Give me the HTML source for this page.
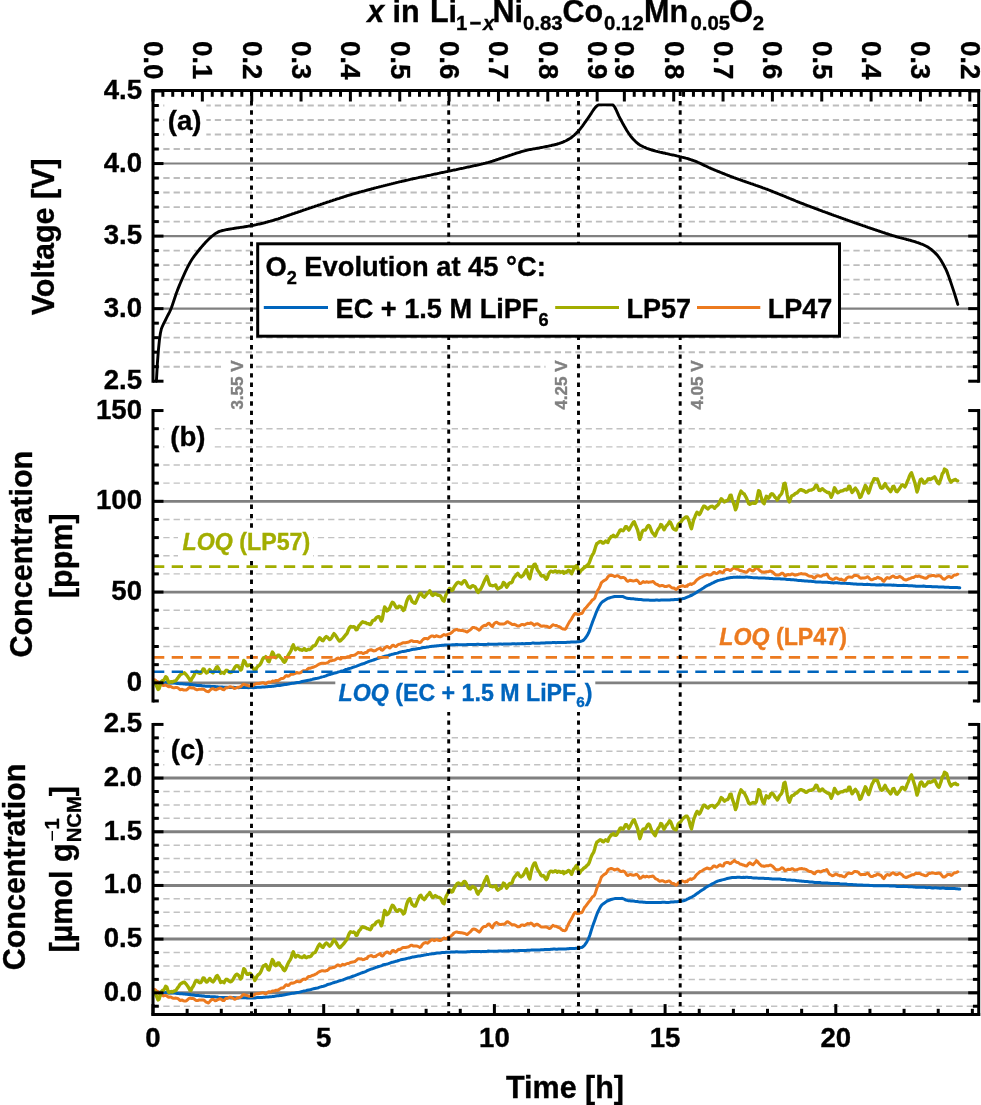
<!DOCTYPE html>
<html lang="en">
<head>
<meta charset="utf-8">
<title>O2 evolution of NCM831205 at 45 °C</title>
<style>
html,body{margin:0;padding:0;background:#fff;}
svg{display:block;}
text{font-family:"Liberation Sans", Arial, Helvetica, sans-serif;font-weight:bold;fill:currentColor;stroke:currentColor;stroke-width:0.35px;}
.gmaj{stroke:#808080;stroke-width:2.7;}
.Ga{stroke-width:2.1;}
.Gc{stroke-width:3;}
.gmin{stroke:#C2C2C2;stroke-width:1.5;stroke-dasharray:6.3 4;}
.ga{stroke-width:1.9;stroke:#BDBDBD;}
.gb{stroke-width:1.4;}
</style>
</head>
<body>
<svg color="#000" width="981" height="1105" viewBox="0 0 981 1105">
<rect x="0" y="0" width="981" height="1105" fill="#fff"/>
<g id="grid">
<line class="gmin ga" x1="153" y1="366.69" x2="978.7" y2="366.69"/>
<line class="gmin ga" x1="153" y1="352.18" x2="978.7" y2="352.18"/>
<line class="gmin ga" x1="153" y1="337.67" x2="978.7" y2="337.67"/>
<line class="gmin ga" x1="153" y1="323.16" x2="978.7" y2="323.16"/>
<line class="gmin ga" x1="153" y1="294.14" x2="978.7" y2="294.14"/>
<line class="gmin ga" x1="153" y1="279.63" x2="978.7" y2="279.63"/>
<line class="gmin ga" x1="153" y1="265.12" x2="978.7" y2="265.12"/>
<line class="gmin ga" x1="153" y1="250.61" x2="978.7" y2="250.61"/>
<line class="gmin ga" x1="153" y1="221.59" x2="978.7" y2="221.59"/>
<line class="gmin ga" x1="153" y1="207.08" x2="978.7" y2="207.08"/>
<line class="gmin ga" x1="153" y1="192.57" x2="978.7" y2="192.57"/>
<line class="gmin ga" x1="153" y1="178.06" x2="978.7" y2="178.06"/>
<line class="gmin ga" x1="153" y1="149.04" x2="978.7" y2="149.04"/>
<line class="gmin ga" x1="153" y1="134.53" x2="978.7" y2="134.53"/>
<line class="gmin ga" x1="153" y1="120.02" x2="978.7" y2="120.02"/>
<line class="gmin ga" x1="153" y1="105.51" x2="978.7" y2="105.51"/>
<line class="gmaj Ga" x1="153" y1="308.65" x2="978.7" y2="308.65"/>
<line class="gmaj Ga" x1="153" y1="236.1" x2="978.7" y2="236.1"/>
<line class="gmaj Ga" x1="153" y1="163.55" x2="978.7" y2="163.55"/>
<line class="gmin gb" x1="153" y1="664.65" x2="978.7" y2="664.65"/>
<line class="gmin gb" x1="153" y1="646.5" x2="978.7" y2="646.5"/>
<line class="gmin gb" x1="153" y1="628.35" x2="978.7" y2="628.35"/>
<line class="gmin gb" x1="153" y1="610.2" x2="978.7" y2="610.2"/>
<line class="gmin gb" x1="153" y1="573.9" x2="978.7" y2="573.9"/>
<line class="gmin gb" x1="153" y1="555.75" x2="978.7" y2="555.75"/>
<line class="gmin gb" x1="153" y1="537.6" x2="978.7" y2="537.6"/>
<line class="gmin gb" x1="153" y1="519.45" x2="978.7" y2="519.45"/>
<line class="gmin gb" x1="153" y1="483.15" x2="978.7" y2="483.15"/>
<line class="gmin gb" x1="153" y1="465" x2="978.7" y2="465"/>
<line class="gmin gb" x1="153" y1="446.85" x2="978.7" y2="446.85"/>
<line class="gmin gb" x1="153" y1="428.7" x2="978.7" y2="428.7"/>
<line class="gmaj Gb" x1="153" y1="682.8" x2="978.7" y2="682.8"/>
<line class="gmaj Gb" x1="153" y1="592.05" x2="978.7" y2="592.05"/>
<line class="gmaj Gb" x1="153" y1="501.3" x2="978.7" y2="501.3"/>
<line class="gmin gc" x1="153" y1="1006.22" x2="978.7" y2="1006.22"/>
<line class="gmin gc" x1="153" y1="979.38" x2="978.7" y2="979.38"/>
<line class="gmin gc" x1="153" y1="965.96" x2="978.7" y2="965.96"/>
<line class="gmin gc" x1="153" y1="952.54" x2="978.7" y2="952.54"/>
<line class="gmin gc" x1="153" y1="925.71" x2="978.7" y2="925.71"/>
<line class="gmin gc" x1="153" y1="912.29" x2="978.7" y2="912.29"/>
<line class="gmin gc" x1="153" y1="898.87" x2="978.7" y2="898.87"/>
<line class="gmin gc" x1="153" y1="872.03" x2="978.7" y2="872.03"/>
<line class="gmin gc" x1="153" y1="858.61" x2="978.7" y2="858.61"/>
<line class="gmin gc" x1="153" y1="845.19" x2="978.7" y2="845.19"/>
<line class="gmin gc" x1="153" y1="818.36" x2="978.7" y2="818.36"/>
<line class="gmin gc" x1="153" y1="804.94" x2="978.7" y2="804.94"/>
<line class="gmin gc" x1="153" y1="791.52" x2="978.7" y2="791.52"/>
<line class="gmin gc" x1="153" y1="764.68" x2="978.7" y2="764.68"/>
<line class="gmin gc" x1="153" y1="751.26" x2="978.7" y2="751.26"/>
<line class="gmin gc" x1="153" y1="737.84" x2="978.7" y2="737.84"/>
<line class="gmaj Gc" x1="153" y1="992.8" x2="978.7" y2="992.8"/>
<line class="gmaj Gc" x1="153" y1="939.12" x2="978.7" y2="939.12"/>
<line class="gmaj Gc" x1="153" y1="885.45" x2="978.7" y2="885.45"/>
<line class="gmaj Gc" x1="153" y1="831.77" x2="978.7" y2="831.77"/>
<line class="gmaj Gc" x1="153" y1="778.1" x2="978.7" y2="778.1"/>
</g>
<g id="curves" fill="none" stroke-linejoin="round" stroke-linecap="round">
<polyline id="voltage" stroke="#000" stroke-width="2.9" points="156.4,381.2 157.4,363.1 158.4,350.1 159.4,340.1 160.4,333.2 161.4,328.8 162.4,326.3 163.4,324.2 164.4,322.1 165.4,320.2 166.4,318.2 167.4,316.2 168.4,314.3 169.4,312.4 170.4,310.2 171.4,307.7 172.4,304.9 173.4,302.0 174.4,299.0 175.4,296.0 176.4,293.1 177.4,290.4 178.4,287.9 179.4,285.4 180.4,283.0 181.4,280.6 182.4,278.3 183.4,276.1 184.4,273.9 185.4,271.7 186.4,269.6 187.4,267.5 188.4,265.6 189.4,263.7 190.4,261.9 191.4,260.3 192.4,258.8 193.4,257.3 194.4,255.9 195.4,254.6 196.4,253.3 197.4,252.0 198.4,250.8 199.4,249.5 200.4,248.3 201.4,247.1 202.4,245.9 203.4,244.8 204.4,243.7 205.4,242.6 206.4,241.5 207.4,240.5 208.4,239.5 209.4,238.5 210.4,237.6 211.4,236.7 212.4,235.9 213.4,235.1 214.4,234.3 215.4,233.6 216.4,233.0 217.4,232.4 218.4,231.9 219.4,231.4 220.4,231.1 221.4,230.8 222.4,230.5 223.4,230.3 224.4,230.1 225.4,229.9 226.4,229.7 227.4,229.5 228.4,229.3 229.4,229.2 230.4,229.0 231.4,228.8 232.4,228.6 233.4,228.5 234.4,228.3 235.4,228.2 236.4,228.0 237.4,227.9 238.4,227.7 239.4,227.6 240.4,227.4 241.4,227.3 242.4,227.1 243.4,227.0 244.4,226.8 245.4,226.7 246.4,226.5 247.4,226.4 248.4,226.2 249.4,226.0 250.4,225.9 251.4,225.7 252.4,225.5 253.4,225.3 254.4,225.1 255.4,224.9 256.4,224.7 257.4,224.4 258.4,224.2 259.4,224.0 260.4,223.8 261.4,223.5 262.4,223.3 263.4,223.0 264.4,222.8 265.4,222.5 266.4,222.2 267.4,222.0 268.4,221.7 269.4,221.4 270.4,221.2 271.4,220.9 272.4,220.6 273.4,220.3 274.4,220.0 275.4,219.7 276.4,219.4 277.4,219.1 278.4,218.8 279.4,218.4 280.4,218.1 281.4,217.7 282.4,217.4 283.4,217.1 284.4,216.7 285.4,216.4 286.4,216.0 287.4,215.7 288.4,215.3 289.4,215.0 290.4,214.6 291.4,214.3 292.4,213.9 293.4,213.6 294.4,213.3 295.4,212.9 296.4,212.6 297.4,212.3 298.4,211.9 299.4,211.6 300.4,211.3 301.4,210.9 302.4,210.6 303.4,210.2 304.4,209.9 305.4,209.6 306.4,209.2 307.4,208.9 308.4,208.6 309.4,208.2 310.4,207.9 311.4,207.6 312.4,207.2 313.4,206.9 314.4,206.6 315.4,206.2 316.4,205.9 317.4,205.6 318.4,205.2 319.4,204.9 320.4,204.6 321.4,204.2 322.4,203.9 323.4,203.5 324.4,203.2 325.4,202.9 326.4,202.5 327.4,202.2 328.4,201.9 329.4,201.6 330.4,201.2 331.4,200.9 332.4,200.6 333.4,200.2 334.4,199.9 335.4,199.6 336.4,199.2 337.4,198.9 338.4,198.6 339.4,198.3 340.4,197.9 341.4,197.6 342.4,197.3 343.4,197.0 344.4,196.6 345.4,196.3 346.4,196.0 347.4,195.7 348.4,195.4 349.4,195.1 350.4,194.8 351.4,194.5 352.4,194.2 353.4,193.9 354.4,193.6 355.4,193.3 356.4,193.0 357.4,192.8 358.4,192.5 359.4,192.2 360.4,191.9 361.4,191.7 362.4,191.4 363.4,191.1 364.4,190.9 365.4,190.6 366.4,190.3 367.4,190.0 368.4,189.8 369.4,189.5 370.4,189.3 371.4,189.0 372.4,188.7 373.4,188.5 374.4,188.2 375.4,187.9 376.4,187.7 377.4,187.4 378.4,187.2 379.4,186.9 380.4,186.6 381.4,186.4 382.4,186.1 383.4,185.9 384.4,185.6 385.4,185.4 386.4,185.1 387.4,184.9 388.4,184.6 389.4,184.4 390.4,184.1 391.4,183.9 392.4,183.6 393.4,183.4 394.4,183.1 395.4,182.9 396.4,182.6 397.4,182.4 398.4,182.2 399.4,181.9 400.4,181.7 401.4,181.5 402.4,181.2 403.4,181.0 404.4,180.8 405.4,180.5 406.4,180.3 407.4,180.1 408.4,179.9 409.4,179.6 410.4,179.4 411.4,179.2 412.4,179.0 413.4,178.7 414.4,178.5 415.4,178.3 416.4,178.1 417.4,177.9 418.4,177.7 419.4,177.4 420.4,177.2 421.4,177.0 422.4,176.8 423.4,176.6 424.4,176.4 425.4,176.2 426.4,175.9 427.4,175.7 428.4,175.5 429.4,175.3 430.4,175.1 431.4,174.9 432.4,174.6 433.4,174.4 434.4,174.2 435.4,174.0 436.4,173.8 437.4,173.6 438.4,173.4 439.4,173.2 440.4,172.9 441.4,172.7 442.4,172.5 443.4,172.3 444.4,172.1 445.4,171.9 446.4,171.7 447.4,171.5 448.4,171.2 449.4,171.0 450.4,170.8 451.4,170.6 452.4,170.4 453.4,170.2 454.4,170.0 455.4,169.8 456.4,169.6 457.4,169.3 458.4,169.1 459.4,168.9 460.4,168.7 461.4,168.5 462.4,168.3 463.4,168.1 464.4,167.8 465.4,167.6 466.4,167.4 467.4,167.2 468.4,167.0 469.4,166.8 470.4,166.6 471.4,166.4 472.4,166.2 473.4,165.9 474.4,165.7 475.4,165.5 476.4,165.3 477.4,165.1 478.4,164.8 479.4,164.6 480.4,164.4 481.4,164.2 482.4,163.9 483.4,163.7 484.4,163.4 485.4,163.2 486.4,162.9 487.4,162.6 488.4,162.4 489.4,162.1 490.4,161.8 491.4,161.5 492.4,161.2 493.4,160.8 494.4,160.5 495.4,160.2 496.4,159.8 497.4,159.5 498.4,159.2 499.4,158.8 500.4,158.5 501.4,158.1 502.4,157.8 503.4,157.5 504.4,157.1 505.4,156.8 506.4,156.5 507.4,156.2 508.4,155.8 509.4,155.5 510.4,155.2 511.4,154.9 512.4,154.5 513.4,154.2 514.4,153.9 515.4,153.5 516.4,153.2 517.4,152.9 518.4,152.6 519.4,152.3 520.4,152.0 521.4,151.7 522.4,151.4 523.4,151.1 524.4,150.8 525.4,150.6 526.4,150.3 527.4,150.1 528.4,149.9 529.4,149.7 530.4,149.5 531.4,149.3 532.4,149.1 533.4,148.9 534.4,148.8 535.4,148.6 536.4,148.4 537.4,148.2 538.4,148.1 539.4,147.9 540.4,147.7 541.4,147.5 542.4,147.3 543.4,147.1 544.4,146.9 545.4,146.7 546.4,146.5 547.4,146.3 548.4,146.1 549.4,145.9 550.4,145.7 551.4,145.5 552.4,145.2 553.4,145.0 554.4,144.8 555.4,144.5 556.4,144.3 557.4,144.0 558.4,143.7 559.4,143.4 560.4,143.0 561.4,142.7 562.4,142.3 563.4,141.9 564.4,141.4 565.4,141.0 566.4,140.5 567.4,139.9 568.4,139.4 569.4,138.8 570.4,138.2 571.4,137.5 572.4,136.7 573.4,135.9 574.4,135.0 575.4,134.0 576.4,133.1 577.4,132.0 578.4,131.0 579.4,129.9 580.4,128.7 581.4,127.4 582.4,126.1 583.4,124.7 584.4,123.2 585.4,121.8 586.4,120.4 587.4,119.0 588.4,117.6 589.4,116.2 590.4,114.6 591.4,113.1 592.4,111.5 593.4,110.0 594.4,108.7 595.4,107.4 596.4,106.4 597.4,105.5 598.4,105.0 598.6,104.9 612.8,104.9 612.8,104.9 613.8,105.8 614.8,107.3 615.8,109.2 616.8,111.3 617.8,113.6 618.8,115.8 619.8,117.8 620.8,119.7 621.8,121.6 622.8,123.5 623.8,125.3 624.8,127.1 625.8,128.8 626.8,130.5 627.8,132.0 628.8,133.5 629.8,134.9 630.8,136.3 631.8,137.6 632.8,138.7 633.8,139.8 634.8,140.8 635.8,141.8 636.8,142.6 637.8,143.5 638.8,144.2 639.8,144.9 640.8,145.5 641.8,146.0 642.8,146.5 643.8,147.0 644.8,147.4 645.8,147.9 646.8,148.3 647.8,148.6 648.8,149.0 649.8,149.3 650.8,149.7 651.8,150.0 652.8,150.3 653.8,150.5 654.8,150.8 655.8,151.1 656.8,151.3 657.8,151.6 658.8,151.8 659.8,152.1 660.8,152.3 661.8,152.5 662.8,152.8 663.8,153.0 664.8,153.2 665.8,153.5 666.8,153.7 667.8,153.9 668.8,154.1 669.8,154.4 670.8,154.6 671.8,154.8 672.8,155.0 673.8,155.2 674.8,155.4 675.8,155.6 676.8,155.9 677.8,156.1 678.8,156.3 679.8,156.6 680.8,156.8 681.8,157.1 682.8,157.3 683.8,157.6 684.8,157.9 685.8,158.2 686.8,158.4 687.8,158.7 688.8,159.0 689.8,159.3 690.8,159.7 691.8,160.0 692.8,160.3 693.8,160.7 694.8,161.0 695.8,161.4 696.8,161.8 697.8,162.3 698.8,162.7 699.8,163.2 700.8,163.6 701.8,164.1 702.8,164.6 703.8,165.1 704.8,165.6 705.8,166.0 706.8,166.5 707.8,167.0 708.8,167.5 709.8,167.9 710.8,168.4 711.8,168.8 712.8,169.2 713.8,169.7 714.8,170.1 715.8,170.5 716.8,170.9 717.8,171.3 718.8,171.7 719.8,172.1 720.8,172.5 721.8,172.9 722.8,173.3 723.8,173.7 724.8,174.1 725.8,174.5 726.8,174.9 727.8,175.3 728.8,175.7 729.8,176.1 730.8,176.5 731.8,176.8 732.8,177.2 733.8,177.6 734.8,177.9 735.8,178.3 736.8,178.7 737.8,179.0 738.8,179.4 739.8,179.7 740.8,180.1 741.8,180.4 742.8,180.8 743.8,181.1 744.8,181.5 745.8,181.8 746.8,182.2 747.8,182.5 748.8,182.9 749.8,183.2 750.8,183.6 751.8,183.9 752.8,184.2 753.8,184.6 754.8,184.9 755.8,185.3 756.8,185.6 757.8,186.0 758.8,186.3 759.8,186.7 760.8,187.0 761.8,187.4 762.8,187.8 763.8,188.1 764.8,188.5 765.8,188.9 766.8,189.2 767.8,189.6 768.8,190.0 769.8,190.4 770.8,190.8 771.8,191.2 772.8,191.6 773.8,192.0 774.8,192.4 775.8,192.8 776.8,193.2 777.8,193.6 778.8,194.0 779.8,194.4 780.8,194.8 781.8,195.2 782.8,195.6 783.8,196.0 784.8,196.4 785.8,196.8 786.8,197.3 787.8,197.7 788.8,198.1 789.8,198.5 790.8,198.9 791.8,199.3 792.8,199.7 793.8,200.1 794.8,200.5 795.8,201.0 796.8,201.4 797.8,201.8 798.8,202.2 799.8,202.6 800.8,203.0 801.8,203.3 802.8,203.7 803.8,204.1 804.8,204.5 805.8,204.9 806.8,205.3 807.8,205.7 808.8,206.0 809.8,206.4 810.8,206.8 811.8,207.2 812.8,207.5 813.8,207.9 814.8,208.3 815.8,208.7 816.8,209.0 817.8,209.4 818.8,209.8 819.8,210.2 820.8,210.5 821.8,210.9 822.8,211.3 823.8,211.6 824.8,212.0 825.8,212.4 826.8,212.7 827.8,213.1 828.8,213.5 829.8,213.8 830.8,214.2 831.8,214.6 832.8,214.9 833.8,215.3 834.8,215.6 835.8,216.0 836.8,216.4 837.8,216.7 838.8,217.1 839.8,217.4 840.8,217.8 841.8,218.2 842.8,218.5 843.8,218.9 844.8,219.2 845.8,219.6 846.8,219.9 847.8,220.3 848.8,220.7 849.8,221.0 850.8,221.4 851.8,221.7 852.8,222.1 853.8,222.4 854.8,222.8 855.8,223.1 856.8,223.5 857.8,223.8 858.8,224.2 859.8,224.5 860.8,224.9 861.8,225.2 862.8,225.6 863.8,225.9 864.8,226.2 865.8,226.6 866.8,226.9 867.8,227.3 868.8,227.6 869.8,228.0 870.8,228.3 871.8,228.6 872.8,229.0 873.8,229.3 874.8,229.7 875.8,230.0 876.8,230.3 877.8,230.7 878.8,231.0 879.8,231.3 880.8,231.7 881.8,232.0 882.8,232.4 883.8,232.7 884.8,233.0 885.8,233.4 886.8,233.7 887.8,234.0 888.8,234.3 889.8,234.7 890.8,235.0 891.8,235.3 892.8,235.6 893.8,235.9 894.8,236.2 895.8,236.5 896.8,236.8 897.8,237.1 898.8,237.4 899.8,237.7 900.8,237.9 901.8,238.2 902.8,238.4 903.8,238.7 904.8,238.9 905.8,239.2 906.8,239.5 907.8,239.7 908.8,240.0 909.8,240.2 910.8,240.5 911.8,240.8 912.8,241.1 913.8,241.4 914.8,241.7 915.8,242.0 916.8,242.4 917.8,242.7 918.8,243.0 919.8,243.4 920.8,243.8 921.8,244.1 922.8,244.5 923.8,245.0 924.8,245.5 925.8,246.0 926.8,246.5 927.8,247.1 928.8,247.7 929.8,248.4 930.8,249.1 931.8,249.9 932.8,250.8 933.8,251.7 934.8,252.6 935.8,253.6 936.8,254.6 937.8,255.8 938.8,257.1 939.8,258.5 940.8,260.0 941.8,261.7 942.8,263.4 943.8,265.3 944.8,267.2 945.8,269.2 946.8,271.4 947.8,273.9 948.8,276.6 949.8,279.4 950.8,282.4 951.8,285.4 952.8,288.4 953.8,291.4 954.8,294.5 955.8,297.7 956.8,301.0 957.8,304.4"/>
<polyline stroke="#0065BD" stroke-width="3.0" points="153.5,682.2 154.8,682.2 156.0,682.2 157.2,682.2 158.5,682.3 159.8,682.3 161.0,682.3 162.2,682.4 163.5,682.6 164.8,682.6 166.0,682.6 167.2,682.7 168.5,683.0 169.8,683.1 171.0,683.0 172.2,683.0 173.5,683.1 174.8,683.1 176.0,683.2 177.2,683.4 178.5,683.6 179.8,683.7 181.0,683.7 182.2,683.8 183.5,683.9 184.8,684.0 186.0,684.2 187.2,684.2 188.5,684.3 189.8,684.5 191.0,684.6 192.2,684.8 193.5,685.0 194.8,685.1 196.0,685.2 197.2,685.4 198.5,685.4 199.8,685.5 201.0,685.6 202.2,685.8 203.5,685.9 204.8,686.1 206.0,686.2 207.2,686.2 208.5,686.2 209.8,686.3 211.0,686.5 212.2,686.5 213.5,686.4 214.8,686.5 216.0,686.7 217.2,686.8 218.5,687.0 219.8,687.1 221.0,687.1 222.2,687.1 223.5,687.2 224.8,687.3 226.0,687.3 227.2,687.3 228.5,687.4 229.8,687.5 231.0,687.5 232.2,687.4 233.5,687.3 234.8,687.4 236.0,687.4 237.2,687.6 238.5,687.7 239.8,687.5 241.0,687.3 242.2,687.4 243.5,687.5 244.8,687.5 246.0,687.4 247.2,687.5 248.5,687.7 249.8,687.6 251.0,687.6 252.2,687.6 253.5,687.8 254.8,687.5 256.0,687.4 257.2,687.3 258.5,687.2 259.8,687.2 261.0,687.2 262.2,687.1 263.5,687.0 264.8,686.9 266.0,686.8 267.2,686.8 268.5,686.6 269.8,686.5 271.0,686.4 272.2,686.3 273.5,686.2 274.8,685.9 276.0,685.7 277.2,685.6 278.5,685.6 279.8,685.4 281.0,685.2 282.2,685.1 283.5,684.8 284.8,684.6 286.0,684.4 287.2,684.2 288.5,684.0 289.8,683.7 291.0,683.4 292.2,683.2 293.5,683.2 294.8,683.1 296.0,682.7 297.2,682.5 298.5,682.5 299.8,682.2 301.0,681.8 302.2,681.5 303.5,681.2 304.8,681.0 306.0,680.8 307.2,680.4 308.5,680.2 309.8,680.0 311.0,679.7 312.2,679.4 313.5,679.0 314.8,678.7 316.0,678.5 317.2,678.3 318.5,678.0 319.8,677.6 321.0,677.2 322.2,676.9 323.5,676.6 324.8,676.2 326.0,675.8 327.2,675.2 328.5,674.8 329.8,674.6 331.0,674.2 332.2,673.8 333.5,673.3 334.8,673.0 336.0,672.8 337.2,672.4 338.5,671.9 339.8,671.6 341.0,671.2 342.2,670.9 343.5,670.6 344.8,670.0 346.0,669.5 347.2,669.2 348.5,668.8 349.8,668.4 351.0,668.1 352.2,667.6 353.5,667.1 354.8,666.7 356.0,666.3 357.2,665.8 358.5,665.3 359.8,664.8 361.0,664.4 362.2,664.0 363.5,663.6 364.8,663.2 366.0,662.7 367.2,662.2 368.5,661.6 369.8,661.1 371.0,660.8 372.2,660.4 373.5,660.0 374.8,659.5 376.0,659.1 377.2,658.7 378.5,658.2 379.8,657.9 381.0,657.6 382.2,657.1 383.5,656.6 384.8,656.3 386.0,656.1 387.2,655.8 388.5,655.5 389.8,655.0 391.0,654.6 392.2,654.3 393.5,654.0 394.8,653.6 396.0,653.4 397.2,653.1 398.5,652.7 399.8,652.2 401.0,651.9 402.2,651.6 403.5,651.4 404.8,651.2 406.0,651.0 407.2,650.6 408.5,650.4 409.8,650.2 411.0,649.8 412.2,649.5 413.5,649.3 414.8,649.2 416.0,648.9 417.2,648.7 418.5,648.5 419.8,648.4 421.0,648.1 422.2,647.8 423.5,647.6 424.8,647.4 426.0,647.3 427.2,647.1 428.5,646.9 429.8,646.6 431.0,646.5 432.2,646.3 433.5,646.3 434.8,646.1 436.0,645.9 437.2,645.7 438.5,645.7 439.8,645.6 441.0,645.5 442.2,645.3 443.5,645.2 444.8,645.1 446.0,645.0 447.2,644.9 448.5,644.9 449.8,644.9 451.0,644.9 452.2,644.8 453.5,644.8 454.8,644.7 456.0,644.6 457.2,644.6 458.5,644.7 459.8,644.7 461.0,644.7 462.2,644.7 463.5,644.7 464.8,644.7 466.0,644.7 467.2,644.6 468.5,644.6 469.8,644.6 471.0,644.5 472.2,644.5 473.5,644.5 474.8,644.5 476.0,644.4 477.2,644.3 478.5,644.3 479.8,644.4 481.0,644.6 482.2,644.5 483.5,644.4 484.8,644.4 486.0,644.4 487.2,644.3 488.5,644.1 489.8,644.2 491.0,644.3 492.2,644.2 493.5,644.2 494.8,644.3 496.0,644.2 497.2,644.2 498.5,644.1 499.8,644.0 501.0,644.1 502.2,644.2 503.5,644.1 504.8,644.1 506.0,644.1 507.2,643.9 508.5,643.9 509.8,644.0 511.0,643.9 512.2,643.8 513.5,643.8 514.8,643.8 516.0,643.9 517.2,643.8 518.5,643.8 519.8,643.7 521.0,643.7 522.2,643.6 523.5,643.7 524.8,643.8 526.0,643.6 527.2,643.5 528.5,643.4 529.8,643.5 531.0,643.4 532.2,643.1 533.5,643.1 534.8,643.3 536.0,643.3 537.2,643.2 538.5,643.2 539.8,643.2 541.0,643.1 542.2,643.1 543.5,643.1 544.8,643.0 546.0,642.8 547.2,642.8 548.5,642.8 549.8,642.7 551.0,642.7 552.2,642.6 553.5,642.4 554.8,642.5 556.0,642.7 557.2,642.6 558.5,642.5 559.8,642.5 561.0,642.5 562.2,642.4 563.5,642.4 564.8,642.4 566.0,642.4 567.2,642.3 568.5,642.3 569.8,642.2 571.0,642.1 572.2,642.1 573.5,642.1 574.8,642.0 576.0,641.9 577.2,641.8 578.5,641.7 579.8,641.5 581.0,641.2 582.2,640.9 583.5,640.1 584.8,638.8 586.0,637.3 587.2,635.4 588.5,633.1 589.8,629.9 591.0,626.3 592.2,622.9 593.5,619.5 594.8,616.2 596.0,613.0 597.2,610.1 598.5,607.5 599.8,605.1 601.0,603.2 602.2,602.0 603.5,601.1 604.8,600.3 606.0,599.5 607.2,598.7 608.5,598.2 609.8,597.8 611.0,597.4 612.2,597.1 613.5,596.8 614.8,596.6 616.0,596.5 617.2,596.4 618.5,596.4 619.8,596.5 621.0,596.4 622.2,596.4 623.5,596.8 624.8,597.4 626.0,597.9 627.2,598.3 628.5,598.5 629.8,598.6 631.0,598.7 632.2,598.8 633.5,598.8 634.8,599.1 636.0,599.3 637.2,599.3 638.5,599.5 639.8,599.6 641.0,599.6 642.2,599.8 643.5,600.0 644.8,600.0 646.0,600.1 647.2,600.1 648.5,600.1 649.8,600.2 651.0,600.2 652.2,600.2 653.5,600.2 654.8,600.2 656.0,600.1 657.2,600.1 658.5,600.2 659.8,600.2 661.0,600.1 662.2,600.0 663.5,600.0 664.8,600.0 666.0,600.1 667.2,600.1 668.5,600.1 669.8,600.0 671.0,599.8 672.2,599.8 673.5,599.7 674.8,599.5 676.0,599.5 677.2,599.4 678.5,599.2 679.8,599.0 681.0,598.9 682.2,598.8 683.5,598.6 684.8,598.2 686.0,597.7 687.2,597.2 688.5,596.7 689.8,596.0 691.0,595.5 692.2,595.0 693.5,594.2 694.8,593.5 696.0,592.7 697.2,591.9 698.5,591.1 699.8,590.2 701.0,589.5 702.2,588.7 703.5,588.0 704.8,587.1 706.0,586.3 707.2,585.6 708.5,585.0 709.8,584.5 711.0,583.8 712.2,583.2 713.5,582.6 714.8,581.9 716.0,581.3 717.2,580.8 718.5,580.4 719.8,580.1 721.0,579.7 722.2,579.5 723.5,579.2 724.8,578.9 726.0,578.6 727.2,578.2 728.5,578.0 729.8,577.8 731.0,577.6 732.2,577.4 733.5,577.3 734.8,577.3 736.0,577.2 737.2,577.1 738.5,577.2 739.8,577.1 741.0,577.2 742.2,577.2 743.5,577.2 744.8,577.3 746.0,577.1 747.2,577.1 748.5,577.2 749.8,577.3 751.0,577.4 752.2,577.6 753.5,577.7 754.8,577.7 756.0,577.7 757.2,577.8 758.5,577.9 759.8,577.9 761.0,577.9 762.2,577.9 763.5,578.0 764.8,578.1 766.0,578.2 767.2,578.2 768.5,578.3 769.8,578.5 771.0,578.5 772.2,578.6 773.5,578.7 774.8,578.7 776.0,578.7 777.2,578.7 778.5,578.7 779.8,578.7 781.0,578.9 782.2,579.1 783.5,579.0 784.8,579.1 786.0,579.3 787.2,579.5 788.5,579.6 789.8,579.5 791.0,579.7 792.2,579.8 793.5,579.8 794.8,579.9 796.0,580.1 797.2,580.3 798.5,580.4 799.8,580.4 801.0,580.5 802.2,580.7 803.5,580.8 804.8,580.9 806.0,581.0 807.2,581.1 808.5,581.2 809.8,581.3 811.0,581.3 812.2,581.4 813.5,581.6 814.8,581.7 816.0,581.9 817.2,581.9 818.5,581.9 819.8,581.9 821.0,582.1 822.2,582.2 823.5,582.2 824.8,582.3 826.0,582.2 827.2,582.3 828.5,582.5 829.8,582.6 831.0,582.7 832.2,582.8 833.5,582.9 834.8,582.8 836.0,582.7 837.2,582.8 838.5,582.9 839.8,583.1 841.0,583.2 842.2,583.2 843.5,583.2 844.8,583.2 846.0,583.3 847.2,583.5 848.5,583.6 849.8,583.6 851.0,583.7 852.2,583.8 853.5,583.9 854.8,583.9 856.0,584.0 857.2,584.2 858.5,584.2 859.8,584.2 861.0,584.2 862.2,584.2 863.5,584.4 864.8,584.5 866.0,584.4 867.2,584.3 868.5,584.5 869.8,584.6 871.0,584.7 872.2,584.7 873.5,584.8 874.8,584.8 876.0,584.9 877.2,584.9 878.5,584.9 879.8,584.8 881.0,584.9 882.2,584.8 883.5,584.8 884.8,584.9 886.0,584.9 887.2,584.9 888.5,584.9 889.8,585.0 891.0,585.1 892.2,585.2 893.5,585.1 894.8,585.2 896.0,585.3 897.2,585.4 898.5,585.4 899.8,585.5 901.0,585.6 902.2,585.4 903.5,585.3 904.8,585.5 906.0,585.6 907.2,585.6 908.5,585.7 909.8,585.8 911.0,585.8 912.2,585.8 913.5,585.9 914.8,586.0 916.0,586.2 917.2,586.3 918.5,586.3 919.8,586.2 921.0,586.3 922.2,586.3 923.5,586.1 924.8,586.3 926.0,586.5 927.2,586.6 928.5,586.6 929.8,586.5 931.0,586.6 932.2,586.8 933.5,586.8 934.8,586.7 936.0,586.7 937.2,586.8 938.5,586.9 939.8,587.1 941.0,587.1 942.2,587.0 943.5,587.0 944.8,587.2 946.0,587.2 947.2,587.2 948.5,587.3 949.8,587.4 951.0,587.5 952.2,587.5 953.5,587.5 954.8,587.5 956.0,587.5 957.2,587.6 958.5,587.7 959.8,587.7"/>
<polyline stroke="#EC7A1F" stroke-width="3.0" points="154.7,679.8 155.8,680.5 156.9,681.5 158.0,681.9 159.1,683.6 160.2,684.6 161.3,684.8 162.4,685.0 163.5,685.6 164.6,685.3 165.7,685.1 166.8,685.5 167.9,686.4 169.0,686.8 170.1,686.4 171.2,686.7 172.3,687.4 173.4,687.7 174.5,687.7 175.6,687.5 176.7,687.6 177.8,687.8 178.9,688.7 180.0,689.7 181.1,689.5 182.2,689.3 183.3,689.9 184.4,690.1 185.5,690.1 186.6,689.9 187.7,689.0 188.8,687.9 189.9,687.4 191.0,687.8 192.1,687.9 193.2,687.8 194.3,688.4 195.4,689.2 196.5,689.7 197.6,689.7 198.7,689.3 199.8,689.2 200.9,689.2 202.0,689.1 203.1,689.3 204.2,689.5 205.3,690.5 206.4,691.2 207.5,691.6 208.6,691.8 209.7,690.6 210.8,689.4 211.9,688.7 213.0,688.7 214.1,689.2 215.2,689.8 216.3,689.8 217.4,689.0 218.5,688.7 219.6,688.1 220.7,688.3 221.8,688.9 222.9,689.6 224.0,689.8 225.1,688.5 226.2,687.7 227.3,687.8 228.4,687.4 229.5,686.8 230.6,686.8 231.7,687.1 232.8,687.4 233.9,688.2 235.0,688.5 236.1,688.0 237.2,687.5 238.3,687.2 239.4,687.0 240.5,686.7 241.6,685.9 242.7,684.6 243.8,684.2 244.9,684.6 246.0,685.0 247.1,685.2 248.2,685.7 249.3,685.9 250.4,685.8 251.5,685.8 252.6,685.7 253.7,685.0 254.8,684.3 255.9,683.8 257.0,683.5 258.1,683.6 259.2,683.5 260.3,683.2 261.4,683.0 262.5,682.8 263.6,682.7 264.7,683.5 265.8,683.8 266.9,683.0 268.0,682.2 269.1,681.9 270.2,682.2 271.3,681.9 272.4,681.1 273.5,681.3 274.6,681.3 275.7,680.5 276.8,680.5 277.9,680.7 279.0,679.9 280.1,679.2 281.2,678.6 282.3,678.5 283.4,678.3 284.5,677.2 285.6,676.0 286.7,675.6 287.8,676.2 288.9,676.1 290.0,674.9 291.1,674.2 292.2,674.3 293.3,674.2 294.4,673.7 295.5,673.4 296.6,672.4 297.7,672.9 298.8,672.9 299.9,672.9 301.0,672.4 302.1,671.5 303.2,670.8 304.3,670.7 305.4,670.9 306.5,670.4 307.6,669.0 308.7,668.3 309.8,668.3 310.9,668.0 312.0,667.5 313.1,667.2 314.2,666.9 315.3,666.3 316.4,665.9 317.5,665.1 318.6,664.4 319.7,663.9 320.8,663.5 321.9,663.3 323.0,663.2 324.1,663.3 325.2,663.4 326.3,663.1 327.4,662.9 328.5,662.1 329.6,661.0 330.7,660.8 331.8,660.7 332.9,660.3 334.0,660.2 335.1,659.9 336.2,659.0 337.3,658.2 338.4,658.0 339.5,658.7 340.6,659.0 341.7,658.1 342.8,657.5 343.9,657.8 345.0,657.8 346.1,657.3 347.2,656.8 348.3,656.8 349.4,656.5 350.5,655.8 351.6,655.6 352.7,655.5 353.8,655.3 354.9,655.0 356.0,654.2 357.1,653.4 358.2,652.5 359.3,652.7 360.4,652.8 361.5,652.6 362.6,653.4 363.7,653.4 364.8,652.8 365.9,652.5 367.0,652.3 368.1,650.7 369.2,650.3 370.3,650.0 371.4,649.7 372.5,650.5 373.6,650.9 374.7,650.7 375.8,650.5 376.9,649.5 378.0,649.0 379.1,648.5 380.2,648.0 381.3,649.9 382.4,650.2 383.5,649.4 384.6,648.0 385.7,647.2 386.8,646.5 387.9,646.8 389.0,647.7 390.1,647.9 391.2,646.8 392.3,645.5 393.4,645.2 394.5,646.0 395.6,646.6 396.7,646.0 397.8,644.8 398.9,644.3 400.0,644.3 401.1,643.7 402.2,643.1 403.3,642.7 404.4,642.7 405.5,642.7 406.6,642.4 407.7,642.2 408.8,642.0 409.9,641.4 411.0,640.8 412.1,640.8 413.2,641.4 414.3,641.4 415.4,641.4 416.5,641.5 417.6,641.6 418.7,642.1 419.8,642.6 420.9,642.2 422.0,640.5 423.1,639.5 424.2,638.6 425.3,638.4 426.4,638.5 427.5,638.9 428.6,638.2 429.7,637.1 430.8,636.4 431.9,635.9 433.0,635.9 434.1,636.7 435.2,636.5 436.3,635.7 437.4,636.1 438.5,636.5 439.6,636.8 440.7,636.7 441.8,636.1 442.9,635.2 444.0,634.5 445.1,635.0 446.2,635.3 447.3,634.6 448.4,634.0 449.5,633.9 450.6,633.4 451.7,632.5 452.8,631.6 453.9,630.4 455.0,630.0 456.1,629.6 457.2,629.5 458.3,630.2 459.4,630.1 460.5,630.4 461.6,630.3 462.7,630.5 463.8,630.9 464.9,631.0 466.0,631.6 467.1,632.0 468.2,631.2 469.3,630.4 470.4,629.7 471.5,628.6 472.6,627.5 473.7,627.4 474.8,627.7 475.9,627.9 477.0,628.7 478.1,629.4 479.2,630.2 480.3,629.3 481.4,627.6 482.5,626.4 483.6,625.7 484.7,625.3 485.8,625.5 486.9,624.6 488.0,623.5 489.1,623.3 490.2,624.6 491.3,625.8 492.4,626.7 493.5,624.7 494.6,623.2 495.7,622.5 496.8,622.3 497.9,623.1 499.0,623.7 500.1,624.0 501.2,624.0 502.3,623.9 503.4,623.9 504.5,623.7 505.6,623.1 506.7,622.0 507.8,621.8 508.9,622.5 510.0,623.1 511.1,623.8 512.2,624.5 513.3,624.4 514.4,624.3 515.5,624.8 516.6,625.4 517.7,626.1 518.8,626.1 519.9,625.7 521.0,624.8 522.1,624.6 523.2,624.5 524.3,625.1 525.4,624.4 526.5,623.8 527.6,623.3 528.7,623.4 529.8,623.4 530.9,622.8 532.0,623.3 533.1,624.4 534.2,625.2 535.3,624.4 536.4,623.9 537.5,623.8 538.6,624.4 539.7,625.1 540.8,626.0 541.9,626.2 543.0,626.0 544.1,626.1 545.2,626.2 546.3,626.2 547.4,626.5 548.5,627.1 549.6,627.5 550.7,626.9 551.8,625.8 552.9,624.7 554.0,625.1 555.1,625.4 556.2,625.4 557.3,626.0 558.4,626.5 559.5,626.7 560.6,627.4 561.7,628.5 562.8,629.0 563.9,629.1 565.0,629.3 566.1,628.4 567.2,625.9 568.3,623.9 569.4,621.9 570.5,620.4 571.6,618.8 572.7,616.8 573.8,615.0 574.9,613.6 576.0,613.5 577.1,614.3 578.2,614.4 579.3,614.3 580.4,613.5 581.5,613.6 582.6,612.6 583.7,610.4 584.8,608.8 585.9,607.7 587.0,606.5 588.1,605.1 589.2,603.9 590.3,602.8 591.4,601.2 592.5,599.8 593.6,599.3 594.7,598.2 595.8,595.3 596.9,592.3 598.0,590.0 599.1,588.2 600.2,585.8 601.3,582.9 602.4,581.8 603.5,580.9 604.6,580.2 605.7,579.8 606.8,578.7 607.9,576.8 609.0,575.8 610.1,575.5 611.2,575.2 612.3,575.4 613.4,575.9 614.5,576.5 615.6,576.2 616.7,575.8 617.8,575.7 618.9,576.4 620.0,577.3 621.1,577.8 622.2,577.5 623.3,577.4 624.4,577.8 625.5,578.9 626.6,580.5 627.7,581.3 628.8,580.8 629.9,580.2 631.0,580.4 632.1,580.8 633.2,580.9 634.3,580.8 635.4,580.5 636.5,580.1 637.6,580.8 638.7,582.0 639.8,583.6 640.9,583.4 642.0,582.6 643.1,581.6 644.2,582.3 645.3,582.3 646.4,581.8 647.5,582.0 648.6,582.4 649.7,582.1 650.8,582.0 651.9,581.8 653.0,581.5 654.1,582.4 655.2,583.6 656.3,584.2 657.4,584.5 658.5,585.4 659.6,586.0 660.7,585.8 661.8,585.6 662.9,585.6 664.0,586.1 665.1,586.6 666.2,586.5 667.3,586.3 668.4,585.7 669.5,585.7 670.6,586.8 671.7,587.7 672.8,587.9 673.9,588.0 675.0,588.9 676.1,589.5 677.2,588.8 678.3,587.4 679.4,586.8 680.5,586.5 681.6,585.9 682.7,585.7 683.8,586.2 684.9,586.6 686.0,586.0 687.1,586.3 688.2,584.7 689.3,584.5 690.4,583.8 691.5,584.4 692.6,583.7 693.7,583.3 694.8,582.4 695.9,580.9 697.0,579.8 698.1,579.1 699.2,578.2 700.3,577.4 701.4,577.1 702.5,576.6 703.6,575.9 704.7,575.4 705.8,574.9 706.9,574.4 708.0,574.6 709.1,575.1 710.2,575.1 711.3,574.6 712.4,573.7 713.5,572.5 714.6,572.6 715.7,573.3 716.8,573.6 717.9,572.9 719.0,572.0 720.1,571.4 721.2,572.2 722.3,572.7 723.4,572.4 724.5,570.3 725.6,569.7 726.7,569.4 727.8,569.4 728.9,569.8 730.0,570.5 731.1,570.1 732.2,569.0 733.3,568.5 734.4,567.6 735.5,568.5 736.6,569.1 737.7,569.2 738.8,569.8 739.9,570.6 741.0,570.8 742.1,571.0 743.2,571.5 744.3,571.6 745.4,572.1 746.5,572.3 747.6,571.3 748.7,570.0 749.8,569.3 750.9,570.0 752.0,570.8 753.1,571.0 754.2,569.9 755.3,569.0 756.4,567.2 757.5,568.1 758.6,569.4 759.7,570.5 760.8,571.3 761.9,572.0 763.0,571.9 764.1,572.3 765.2,572.0 766.3,571.8 767.4,571.8 768.5,571.7 769.6,571.1 770.7,571.1 771.8,571.6 772.9,572.3 774.0,573.4 775.1,574.5 776.2,575.1 777.3,575.0 778.4,575.0 779.5,574.7 780.6,574.1 781.7,573.2 782.8,573.3 783.9,574.5 785.0,575.9 786.1,575.5 787.2,574.7 788.3,574.5 789.4,574.7 790.5,574.7 791.6,574.0 792.7,574.0 793.8,574.7 794.9,575.2 796.0,574.9 797.1,574.8 798.2,574.3 799.3,573.9 800.4,573.8 801.5,573.6 802.6,573.9 803.7,574.0 804.8,574.0 805.9,574.3 807.0,574.9 808.1,575.6 809.2,576.0 810.3,576.2 811.4,576.3 812.5,576.7 813.6,577.9 814.7,578.1 815.8,576.8 816.9,576.0 818.0,575.7 819.1,575.8 820.2,576.3 821.3,576.2 822.4,575.5 823.5,575.0 824.6,574.9 825.7,574.6 826.8,574.1 827.9,575.7 829.0,577.8 830.1,578.4 831.2,578.9 832.3,579.5 833.4,579.3 834.5,578.8 835.6,578.0 836.7,578.1 837.8,578.8 838.9,579.1 840.0,579.6 841.1,579.1 842.2,579.8 843.3,580.1 844.4,580.4 845.5,579.8 846.6,578.2 847.7,577.4 848.8,577.0 849.9,577.1 851.0,577.2 852.1,577.2 853.2,576.4 854.3,575.4 855.4,575.4 856.5,575.6 857.6,575.7 858.7,576.4 859.8,577.7 860.9,578.3 862.0,577.9 863.1,577.9 864.2,578.1 865.3,577.8 866.4,577.3 867.5,576.7 868.6,577.5 869.7,578.7 870.8,579.7 871.9,579.7 873.0,579.4 874.1,578.8 875.2,578.6 876.3,578.3 877.4,577.2 878.5,577.5 879.6,578.3 880.7,578.3 881.8,579.2 882.9,580.8 884.0,581.3 885.1,579.7 886.2,578.3 887.3,577.6 888.4,578.0 889.5,578.3 890.6,577.6 891.7,576.5 892.8,576.0 893.9,576.4 895.0,577.3 896.1,577.6 897.2,577.6 898.3,577.1 899.4,576.4 900.5,576.7 901.6,577.4 902.7,578.2 903.8,579.4 904.9,579.7 906.0,580.1 907.1,579.7 908.2,579.2 909.3,578.7 910.4,578.4 911.5,577.7 912.6,577.6 913.7,577.4 914.8,576.8 915.9,576.1 917.0,576.4 918.1,576.3 919.2,576.0 920.3,576.5 921.4,577.1 922.5,577.3 923.6,577.7 924.7,578.0 925.8,578.3 926.9,577.8 928.0,576.8 929.1,576.0 930.2,576.0 931.3,575.7 932.4,575.4 933.5,575.5 934.6,575.8 935.7,576.2 936.8,576.1 937.9,575.7 939.0,575.6 940.1,575.9 941.2,576.9 942.3,578.2 943.4,579.1 944.5,579.2 945.6,578.4 946.7,577.6 947.8,576.7 948.9,576.6 950.0,576.8 951.1,577.5 952.2,577.1 953.3,575.8 954.4,575.1 955.5,575.0 956.6,574.7 957.7,574.2"/>
<polyline stroke="#A2AD00" stroke-width="3.4" points="154.7,681.8 155.8,684.5 156.9,686.7 158.0,689.4 159.1,688.8 160.2,685.0 161.3,681.8 162.4,680.7 163.5,680.5 164.6,679.0 165.7,676.7 166.8,677.5 167.9,680.6 169.0,682.7 170.1,682.0 171.2,681.6 172.3,682.1 173.4,681.4 174.5,681.1 175.6,680.9 176.7,679.5 177.8,678.0 178.9,676.7 180.0,675.0 181.1,674.2 182.2,673.7 183.3,673.1 184.4,672.8 185.5,674.0 186.6,675.2 187.7,676.6 188.8,678.3 189.9,680.3 191.0,680.6 192.1,678.1 193.2,676.7 194.3,674.6 195.4,672.3 196.5,671.3 197.6,671.9 198.7,673.0 199.8,673.4 200.9,673.2 202.0,671.5 203.1,669.0 204.2,669.2 205.3,671.4 206.4,672.9 207.5,672.4 208.6,671.1 209.7,669.6 210.8,670.7 211.9,672.1 213.0,672.8 214.1,671.5 215.2,669.7 216.3,667.4 217.4,666.8 218.5,668.4 219.6,670.8 220.7,673.3 221.8,672.5 222.9,672.7 224.0,673.5 225.1,671.5 226.2,670.3 227.3,670.5 228.4,671.5 229.5,672.2 230.6,672.6 231.7,672.0 232.8,670.9 233.9,669.0 235.0,667.1 236.1,665.9 237.2,665.6 238.3,666.5 239.4,667.7 240.5,670.1 241.6,669.2 242.7,664.4 243.8,660.5 244.9,661.5 246.0,664.1 247.1,665.8 248.2,665.6 249.3,665.0 250.4,664.8 251.5,666.4 252.6,667.4 253.7,669.0 254.8,671.4 255.9,669.6 257.0,667.3 258.1,666.1 259.2,665.5 260.3,664.2 261.4,662.1 262.5,659.4 263.6,657.6 264.7,657.7 265.8,656.6 266.9,658.4 268.0,661.2 269.1,661.7 270.2,658.4 271.3,655.1 272.4,652.1 273.5,653.5 274.6,656.9 275.7,657.8 276.8,657.0 277.9,655.1 279.0,655.1 280.1,657.0 281.2,658.1 282.3,659.2 283.4,661.5 284.5,662.3 285.6,660.9 286.7,658.4 287.8,656.0 288.9,654.0 290.0,652.5 291.1,650.5 292.2,647.0 293.3,644.8 294.4,647.4 295.5,649.7 296.6,648.4 297.7,648.2 298.8,648.7 299.9,649.7 301.0,649.8 302.1,650.3 303.2,649.6 304.3,648.5 305.4,650.0 306.5,650.3 307.6,649.6 308.7,649.3 309.8,649.5 310.9,649.0 312.0,647.5 313.1,646.0 314.2,645.9 315.3,645.2 316.4,643.2 317.5,641.0 318.6,639.0 319.7,637.7 320.8,638.8 321.9,640.3 323.0,640.7 324.1,639.1 325.2,637.5 326.3,636.6 327.4,637.3 328.5,638.4 329.6,639.6 330.7,638.8 331.8,637.5 332.9,635.3 334.0,633.6 335.1,634.8 336.2,636.4 337.3,638.2 338.4,639.9 339.5,641.1 340.6,640.7 341.7,639.4 342.8,638.5 343.9,637.1 345.0,635.7 346.1,634.5 347.2,633.1 348.3,630.2 349.4,627.8 350.5,626.5 351.6,626.8 352.7,626.9 353.8,626.6 354.9,627.4 356.0,629.7 357.1,629.6 358.2,627.1 359.3,625.2 360.4,624.3 361.5,622.7 362.6,621.8 363.7,622.3 364.8,622.5 365.9,622.7 367.0,623.6 368.1,623.6 369.2,624.2 370.3,624.6 371.4,623.2 372.5,620.7 373.6,620.2 374.7,620.1 375.8,618.3 376.9,617.3 378.0,616.8 379.1,616.7 380.2,618.5 381.3,621.1 382.4,618.5 383.5,612.2 384.6,607.0 385.7,608.1 386.8,610.9 387.9,610.3 389.0,609.3 390.1,607.0 391.2,604.3 392.3,602.3 393.4,602.8 394.5,604.4 395.6,606.6 396.7,607.8 397.8,607.7 398.9,606.2 400.0,606.5 401.1,606.9 402.2,608.3 403.3,610.4 404.4,609.6 405.5,606.0 406.6,601.7 407.7,598.8 408.8,597.0 409.9,596.3 411.0,598.9 412.1,601.6 413.2,602.3 414.3,603.1 415.4,603.2 416.5,600.6 417.6,598.1 418.7,595.8 419.8,593.8 420.9,593.2 422.0,595.0 423.1,596.4 424.2,597.2 425.3,596.1 426.4,594.5 427.5,593.2 428.6,592.5 429.7,590.8 430.8,592.4 431.9,594.9 433.0,595.4 434.1,594.3 435.2,593.6 436.3,594.3 437.4,594.9 438.5,595.4 439.6,595.4 440.7,596.2 441.8,598.3 442.9,600.4 444.0,601.2 445.1,597.3 446.2,594.3 447.3,592.6 448.4,590.3 449.5,588.5 450.6,588.8 451.7,590.5 452.8,590.0 453.9,587.4 455.0,585.7 456.1,584.1 457.2,582.7 458.3,582.2 459.4,582.7 460.5,583.4 461.6,583.9 462.7,582.4 463.8,581.0 464.9,580.7 466.0,582.3 467.1,584.6 468.2,586.6 469.3,587.3 470.4,587.8 471.5,586.4 472.6,585.6 473.7,586.1 474.8,586.5 475.9,588.2 477.0,591.2 478.1,592.5 479.2,590.0 480.3,589.6 481.4,587.8 482.5,585.6 483.6,582.8 484.7,580.4 485.8,578.4 486.9,576.4 488.0,579.4 489.1,583.4 490.2,585.3 491.3,585.4 492.4,585.7 493.5,585.6 494.6,585.3 495.7,584.9 496.8,587.9 497.9,589.0 499.0,588.2 500.1,587.5 501.2,587.2 502.3,585.3 503.4,582.4 504.5,583.1 505.6,585.1 506.7,587.2 507.8,585.6 508.9,583.6 510.0,582.7 511.1,582.9 512.2,582.0 513.3,578.8 514.4,577.1 515.5,576.0 516.6,574.4 517.7,573.4 518.8,574.8 519.9,576.2 521.0,577.0 522.1,576.3 523.2,575.3 524.3,573.5 525.4,571.4 526.5,569.6 527.6,573.4 528.7,577.0 529.8,578.7 530.9,573.6 532.0,569.4 533.1,566.2 534.2,564.4 535.3,564.2 536.4,567.3 537.5,570.0 538.6,571.6 539.7,572.8 540.8,575.2 541.9,576.1 543.0,575.5 544.1,576.1 545.2,578.0 546.3,579.3 547.4,577.7 548.5,574.3 549.6,572.2 550.7,571.3 551.8,571.4 552.9,572.1 554.0,571.7 555.1,570.9 556.2,571.3 557.3,572.3 558.4,571.4 559.5,571.5 560.6,572.2 561.7,572.1 562.8,571.5 563.9,573.3 565.0,571.9 566.1,572.4 567.2,571.5 568.3,570.3 569.4,570.6 570.5,572.3 571.6,573.8 572.7,571.2 573.8,568.8 574.9,567.8 576.0,566.1 577.1,565.5 578.2,569.8 579.3,572.8 580.4,571.5 581.5,569.9 582.6,569.2 583.7,568.0 584.8,567.3 585.9,566.6 587.0,565.3 588.1,564.6 589.2,562.8 590.3,559.8 591.4,556.8 592.5,554.7 593.6,553.1 594.7,549.9 595.8,546.1 596.9,543.5 598.0,543.0 599.1,542.0 600.2,541.4 601.3,541.6 602.4,543.0 603.5,543.1 604.6,542.0 605.7,541.1 606.8,542.0 607.9,542.5 609.0,539.5 610.1,538.1 611.2,536.5 612.3,536.5 613.4,535.2 614.5,536.6 615.6,536.8 616.7,536.3 617.8,534.3 618.9,532.4 620.0,530.3 621.1,529.7 622.2,530.6 623.3,530.7 624.4,528.9 625.5,526.8 626.6,526.7 627.7,528.5 628.8,530.1 629.9,528.3 631.0,526.3 632.1,524.4 633.2,522.5 634.3,521.8 635.4,524.8 636.5,527.3 637.6,530.0 638.7,534.7 639.8,539.3 640.9,536.4 642.0,532.2 643.1,530.4 644.2,530.2 645.3,530.0 646.4,528.4 647.5,526.3 648.6,525.4 649.7,526.3 650.8,529.2 651.9,532.0 653.0,533.4 654.1,534.8 655.2,536.0 656.3,533.1 657.4,530.4 658.5,528.8 659.6,527.3 660.7,524.6 661.8,525.1 662.9,527.6 664.0,529.8 665.1,527.9 666.2,526.0 667.3,525.0 668.4,523.6 669.5,521.7 670.6,522.6 671.7,525.0 672.8,527.9 673.9,529.3 675.0,529.8 676.1,530.0 677.2,527.4 678.3,524.4 679.4,523.3 680.5,522.7 681.6,521.0 682.7,519.5 683.8,518.4 684.9,517.8 686.0,516.9 687.1,516.9 688.2,518.9 689.3,521.9 690.4,526.2 691.5,528.7 692.6,524.2 693.7,519.7 694.8,517.2 695.9,514.4 697.0,512.2 698.1,513.0 699.2,514.6 700.3,513.2 701.4,510.8 702.5,508.3 703.6,506.3 704.7,506.2 705.8,507.3 706.9,508.3 708.0,508.9 709.1,507.6 710.2,506.9 711.3,506.4 712.4,506.3 713.5,507.1 714.6,508.2 715.7,506.8 716.8,505.9 717.9,505.0 719.0,503.3 720.1,500.9 721.2,498.7 722.3,499.5 723.4,500.8 724.5,502.0 725.6,501.1 726.7,500.6 727.8,500.4 728.9,498.4 730.0,495.5 731.1,495.2 732.2,499.5 733.3,502.4 734.4,505.6 735.5,509.8 736.6,507.3 737.7,501.8 738.8,497.0 739.9,493.8 741.0,491.1 742.1,492.3 743.2,493.5 744.3,494.1 745.4,496.2 746.5,498.1 747.6,500.8 748.7,503.6 749.8,504.3 750.9,503.8 752.0,503.3 753.1,502.8 754.2,503.4 755.3,503.4 756.4,501.8 757.5,496.2 758.6,490.6 759.7,491.4 760.8,495.9 761.9,499.8 763.0,502.5 764.1,503.7 765.2,499.5 766.3,496.3 767.4,497.0 768.5,498.3 769.6,497.0 770.7,494.5 771.8,493.8 772.9,494.2 774.0,495.6 775.1,497.5 776.2,498.1 777.3,500.1 778.4,498.4 779.5,496.0 780.6,494.8 781.7,493.5 782.8,489.6 783.9,483.8 785.0,483.2 786.1,488.3 787.2,494.8 788.3,500.0 789.4,501.9 790.5,499.0 791.6,496.0 792.7,495.4 793.8,495.0 794.9,493.8 796.0,493.2 797.1,492.8 798.2,491.5 799.3,490.5 800.4,489.8 801.5,489.8 802.6,490.5 803.7,490.5 804.8,491.6 805.9,492.2 807.0,491.9 808.1,490.9 809.2,490.3 810.3,490.1 811.4,490.1 812.5,489.5 813.6,489.0 814.7,487.4 815.8,485.2 816.9,485.4 818.0,488.2 819.1,490.4 820.2,490.5 821.3,489.4 822.4,488.7 823.5,489.8 824.6,490.7 825.7,491.4 826.8,492.1 827.9,492.6 829.0,492.5 830.1,494.4 831.2,497.3 832.3,494.9 833.4,491.5 834.5,487.8 835.6,489.4 836.7,491.7 837.8,492.8 838.9,492.2 840.0,491.3 841.1,491.0 842.2,490.8 843.3,490.5 844.4,489.6 845.5,489.3 846.6,490.0 847.7,489.1 848.8,486.2 849.9,486.4 851.0,490.0 852.1,492.5 853.2,491.2 854.3,489.4 855.4,488.1 856.5,489.7 857.6,491.3 858.7,494.1 859.8,497.5 860.9,496.8 862.0,494.0 863.1,491.2 864.2,488.5 865.3,485.4 866.4,486.9 867.5,490.6 868.6,492.9 869.7,490.0 870.8,486.3 871.9,483.1 873.0,481.3 874.1,478.8 875.2,478.7 876.3,479.2 877.4,479.0 878.5,482.0 879.6,485.3 880.7,487.7 881.8,488.3 882.9,487.8 884.0,485.2 885.1,483.6 886.2,485.8 887.3,487.6 888.4,488.9 889.5,490.2 890.6,491.6 891.7,489.6 892.8,486.7 893.9,486.3 895.0,488.9 896.1,491.3 897.2,491.7 898.3,490.2 899.4,488.9 900.5,487.2 901.6,485.2 902.7,484.8 903.8,485.7 904.9,487.0 906.0,485.0 907.1,482.0 908.2,479.7 909.3,476.6 910.4,474.3 911.5,472.7 912.6,476.0 913.7,479.3 914.8,482.6 915.9,487.0 917.0,492.0 918.1,488.9 919.2,483.6 920.3,479.8 921.4,479.1 922.5,480.4 923.6,483.0 924.7,483.0 925.8,481.9 926.9,481.0 928.0,479.0 929.1,478.8 930.2,479.5 931.3,478.9 932.4,478.3 933.5,477.7 934.6,476.8 935.7,478.7 936.8,481.2 937.9,483.1 939.0,483.7 940.1,480.8 941.2,477.8 942.3,473.7 943.4,472.5 944.5,469.1 945.6,469.8 946.7,470.4 947.8,474.4 948.9,478.1 950.0,480.6 951.1,482.2 952.2,480.9 953.3,480.4 954.4,479.8 955.5,479.5 956.6,480.6 957.7,480.8"/>
<polyline stroke="#0065BD" stroke-width="3.0" points="153.5,992.1 154.8,992.2 156.0,992.1 157.2,992.1 158.5,992.3 159.8,992.3 161.0,992.3 162.2,992.4 163.5,992.5 164.8,992.6 166.0,992.6 167.2,992.7 168.5,993.0 169.8,993.1 171.0,993.0 172.2,993.1 173.5,993.1 174.8,993.1 176.0,993.2 177.2,993.4 178.5,993.6 179.8,993.7 181.0,993.8 182.2,993.8 183.5,994.0 184.8,994.1 186.0,994.3 187.2,994.3 188.5,994.5 189.8,994.6 191.0,994.8 192.2,994.9 193.5,995.1 194.8,995.3 196.0,995.4 197.2,995.6 198.5,995.6 199.8,995.7 201.0,995.8 202.2,996.0 203.5,996.1 204.8,996.3 206.0,996.4 207.2,996.4 208.5,996.4 209.8,996.6 211.0,996.7 212.2,996.7 213.5,996.7 214.8,996.7 216.0,996.9 217.2,997.1 218.5,997.3 219.8,997.4 221.0,997.4 222.2,997.4 223.5,997.5 224.8,997.6 226.0,997.6 227.2,997.6 228.5,997.7 229.8,997.8 231.0,997.9 232.2,997.7 233.5,997.6 234.8,997.7 236.0,997.8 237.2,998.0 238.5,998.0 239.8,997.8 241.0,997.7 242.2,997.7 243.5,997.8 244.8,997.8 246.0,997.7 247.2,997.9 248.5,998.0 249.8,998.0 251.0,997.9 252.2,998.0 253.5,998.1 254.8,997.9 256.0,997.7 257.2,997.6 258.5,997.5 259.8,997.5 261.0,997.5 262.2,997.4 263.5,997.3 264.8,997.2 266.0,997.1 267.2,997.1 268.5,996.9 269.8,996.8 271.0,996.7 272.2,996.6 273.5,996.4 274.8,996.2 276.0,995.9 277.2,995.8 278.5,995.8 279.8,995.6 281.0,995.4 282.2,995.2 283.5,995.0 284.8,994.7 286.0,994.5 287.2,994.3 288.5,994.1 289.8,993.8 291.0,993.4 292.2,993.2 293.5,993.3 294.8,993.1 296.0,992.7 297.2,992.5 298.5,992.4 299.8,992.1 301.0,991.8 302.2,991.4 303.5,991.1 304.8,990.9 306.0,990.6 307.2,990.2 308.5,990.0 309.8,989.8 311.0,989.5 312.2,989.1 313.5,988.8 314.8,988.5 316.0,988.2 317.2,988.0 318.5,987.7 319.8,987.2 321.0,986.8 322.2,986.5 323.5,986.2 324.8,985.8 326.0,985.3 327.2,984.7 328.5,984.3 329.8,984.0 331.0,983.6 332.2,983.2 333.5,982.7 334.8,982.3 336.0,982.1 337.2,981.7 338.5,981.1 339.8,980.8 341.0,980.4 342.2,980.1 343.5,979.7 344.8,979.2 346.0,978.6 347.2,978.2 348.5,977.8 349.8,977.4 351.0,977.0 352.2,976.5 353.5,976.0 354.8,975.6 356.0,975.1 357.2,974.7 358.5,974.1 359.8,973.6 361.0,973.1 362.2,972.7 363.5,972.3 364.8,971.8 366.0,971.3 367.2,970.7 368.5,970.1 369.8,969.6 371.0,969.2 372.2,968.8 373.5,968.4 374.8,967.9 376.0,967.4 377.2,967.0 378.5,966.5 379.8,966.2 381.0,965.8 382.2,965.3 383.5,964.7 384.8,964.4 386.0,964.3 387.2,964.0 388.5,963.6 389.8,963.1 391.0,962.6 392.2,962.3 393.5,962.0 394.8,961.6 396.0,961.3 397.2,961.0 398.5,960.5 399.8,960.1 401.0,959.7 402.2,959.4 403.5,959.2 404.8,959.0 406.0,958.7 407.2,958.4 408.5,958.1 409.8,957.9 411.0,957.5 412.2,957.1 413.5,957.0 414.8,956.8 416.0,956.6 417.2,956.3 418.5,956.1 419.8,956.0 421.0,955.7 422.2,955.4 423.5,955.2 424.8,954.9 426.0,954.8 427.2,954.6 428.5,954.4 429.8,954.1 431.0,953.9 432.2,953.8 433.5,953.7 434.8,953.5 436.0,953.3 437.2,953.1 438.5,953.0 439.8,953.0 441.0,952.8 442.2,952.6 443.5,952.5 444.8,952.4 446.0,952.3 447.2,952.2 448.5,952.2 449.8,952.2 451.0,952.1 452.2,952.0 453.5,952.0 454.8,951.9 456.0,951.8 457.2,951.8 458.5,951.9 459.8,951.9 461.0,951.9 462.2,951.9 463.5,951.9 464.8,951.9 466.0,951.9 467.2,951.8 468.5,951.7 469.8,951.7 471.0,951.6 472.2,951.6 473.5,951.6 474.8,951.6 476.0,951.5 477.2,951.4 478.5,951.4 479.8,951.5 481.0,951.7 482.2,951.5 483.5,951.4 484.8,951.4 486.0,951.4 487.2,951.3 488.5,951.1 489.8,951.3 491.0,951.3 492.2,951.2 493.5,951.2 494.8,951.3 496.0,951.2 497.2,951.2 498.5,951.1 499.8,951.0 501.0,951.1 502.2,951.2 503.5,951.1 504.8,951.1 506.0,951.0 507.2,950.9 508.5,950.8 509.8,950.9 511.0,950.8 512.2,950.7 513.5,950.6 514.8,950.7 516.0,950.7 517.2,950.7 518.5,950.6 519.8,950.6 521.0,950.5 522.2,950.4 523.5,950.5 524.8,950.6 526.0,950.4 527.2,950.3 528.5,950.2 529.8,950.2 531.0,950.1 532.2,949.9 533.5,949.9 534.8,950.0 536.0,950.0 537.2,949.9 538.5,949.9 539.8,949.9 541.0,949.8 542.2,949.7 543.5,949.8 544.8,949.6 546.0,949.4 547.2,949.4 548.5,949.4 549.8,949.4 551.0,949.3 552.2,949.2 553.5,949.0 554.8,949.1 556.0,949.2 557.2,949.2 558.5,949.0 559.8,949.0 561.0,949.0 562.2,948.9 563.5,948.9 564.8,949.0 566.0,948.9 567.2,948.8 568.5,948.8 569.8,948.6 571.0,948.5 572.2,948.5 573.5,948.5 574.8,948.4 576.0,948.3 577.2,948.2 578.5,948.1 579.8,947.9 581.0,947.5 582.2,947.2 583.5,946.3 584.8,944.9 586.0,943.2 587.2,941.2 588.5,938.6 589.8,935.2 591.0,931.2 592.2,927.5 593.5,923.8 594.8,920.2 596.0,916.7 597.2,913.5 598.5,910.7 599.8,908.1 601.0,906.0 602.2,904.6 603.5,903.6 604.8,902.8 606.0,901.9 607.2,901.0 608.5,900.5 609.8,900.0 611.0,899.5 612.2,899.2 613.5,898.9 614.8,898.6 616.0,898.5 617.2,898.4 618.5,898.4 619.8,898.4 621.0,898.4 622.2,898.3 623.5,898.8 624.8,899.5 626.0,900.0 627.2,900.4 628.5,900.7 629.8,900.8 631.0,900.9 632.2,901.0 633.5,901.0 634.8,901.3 636.0,901.5 637.2,901.6 638.5,901.8 639.8,901.9 641.0,901.9 642.2,902.1 643.5,902.3 644.8,902.3 646.0,902.4 647.2,902.5 648.5,902.4 649.8,902.5 651.0,902.5 652.2,902.5 653.5,902.6 654.8,902.5 656.0,902.5 657.2,902.5 658.5,902.5 659.8,902.5 661.0,902.4 662.2,902.3 663.5,902.3 664.8,902.3 666.0,902.4 667.2,902.4 668.5,902.4 669.8,902.3 671.0,902.1 672.2,902.0 673.5,902.0 674.8,901.8 676.0,901.7 677.2,901.7 678.5,901.4 679.8,901.2 681.0,901.0 682.2,900.9 683.5,900.7 684.8,900.3 686.0,899.8 687.2,899.2 688.5,898.6 689.8,897.9 691.0,897.4 692.2,896.8 693.5,896.0 694.8,895.2 696.0,894.3 697.2,893.4 698.5,892.6 699.8,891.6 701.0,890.8 702.2,890.0 703.5,889.2 704.8,888.2 706.0,887.3 707.2,886.6 708.5,886.0 709.8,885.3 711.0,884.6 712.2,883.9 713.5,883.2 714.8,882.5 716.0,881.8 717.2,881.3 718.5,880.9 719.8,880.5 721.0,880.2 722.2,879.9 723.5,879.6 724.8,879.3 726.0,878.9 727.2,878.5 728.5,878.2 729.8,878.0 731.0,877.8 732.2,877.6 733.5,877.5 734.8,877.5 736.0,877.4 737.2,877.3 738.5,877.3 739.8,877.3 741.0,877.4 742.2,877.4 743.5,877.3 744.8,877.5 746.0,877.3 747.2,877.2 748.5,877.4 749.8,877.5 751.0,877.6 752.2,877.8 753.5,877.9 754.8,877.9 756.0,877.9 757.2,878.1 758.5,878.2 759.8,878.2 761.0,878.2 762.2,878.2 763.5,878.2 764.8,878.4 766.0,878.5 767.2,878.5 768.5,878.6 769.8,878.7 771.0,878.8 772.2,878.9 773.5,879.0 774.8,879.0 776.0,879.0 777.2,879.1 778.5,879.0 779.8,879.0 781.0,879.2 782.2,879.4 783.5,879.4 784.8,879.4 786.0,879.7 787.2,879.9 788.5,880.0 789.8,879.9 791.0,880.1 792.2,880.2 793.5,880.3 794.8,880.3 796.0,880.6 797.2,880.7 798.5,880.8 799.8,880.9 801.0,881.0 802.2,881.2 803.5,881.3 804.8,881.4 806.0,881.6 807.2,881.6 808.5,881.7 809.8,881.9 811.0,881.9 812.2,882.0 813.5,882.2 814.8,882.4 816.0,882.5 817.2,882.6 818.5,882.5 819.8,882.5 821.0,882.8 822.2,882.9 823.5,882.9 824.8,882.9 826.0,882.9 827.2,882.9 828.5,883.2 829.8,883.3 831.0,883.4 832.2,883.6 833.5,883.6 834.8,883.5 836.0,883.4 837.2,883.5 838.5,883.6 839.8,883.8 841.0,883.9 842.2,883.9 843.5,884.0 844.8,884.0 846.0,884.1 847.2,884.3 848.5,884.4 849.8,884.4 851.0,884.5 852.2,884.6 853.5,884.7 854.8,884.7 856.0,884.8 857.2,885.0 858.5,885.0 859.8,885.0 861.0,885.0 862.2,885.1 863.5,885.2 864.8,885.3 866.0,885.2 867.2,885.2 868.5,885.3 869.8,885.5 871.0,885.5 872.2,885.6 873.5,885.7 874.8,885.7 876.0,885.8 877.2,885.8 878.5,885.8 879.8,885.7 881.0,885.8 882.2,885.7 883.5,885.7 884.8,885.8 886.0,885.8 887.2,885.8 888.5,885.8 889.8,885.9 891.0,886.0 892.2,886.1 893.5,886.0 894.8,886.1 896.0,886.2 897.2,886.4 898.5,886.4 899.8,886.5 901.0,886.5 902.2,886.4 903.5,886.3 904.8,886.4 906.0,886.5 907.2,886.6 908.5,886.7 909.8,886.7 911.0,886.7 912.2,886.8 913.5,886.9 914.8,887.0 916.0,887.2 917.2,887.3 918.5,887.3 919.8,887.3 921.0,887.3 922.2,887.3 923.5,887.2 924.8,887.3 926.0,887.6 927.2,887.7 928.5,887.6 929.8,887.6 931.0,887.7 932.2,887.9 933.5,887.9 934.8,887.8 936.0,887.8 937.2,887.9 938.5,888.0 939.8,888.2 941.0,888.2 942.2,888.1 943.5,888.1 944.8,888.3 946.0,888.4 947.2,888.3 948.5,888.4 949.8,888.5 951.0,888.6 952.2,888.6 953.5,888.6 954.8,888.6 956.0,888.7 957.2,888.8 958.5,888.9 959.8,888.9"/>
<polyline stroke="#EC7A1F" stroke-width="3.0" points="154.7,989.4 155.8,990.2 156.9,991.3 158.0,991.7 159.1,993.7 160.2,994.8 161.3,995.1 162.4,995.3 163.5,995.9 164.6,995.6 165.7,995.4 166.8,995.8 167.9,996.9 169.0,997.3 170.1,996.9 171.2,997.2 172.3,997.9 173.4,998.3 174.5,998.3 175.6,998.1 176.7,998.2 177.8,998.4 178.9,999.4 180.0,1000.5 181.1,1000.3 182.2,1000.1 183.3,1000.8 184.4,1001.0 185.5,1000.9 186.6,1000.7 187.7,999.7 188.8,998.5 189.9,998.0 191.0,998.4 192.1,998.6 193.2,998.4 194.3,999.1 195.4,1000.0 196.5,1000.6 197.6,1000.6 198.7,1000.1 199.8,1000.0 200.9,1000.0 202.0,999.9 203.1,1000.1 204.2,1000.3 205.3,1001.4 206.4,1002.2 207.5,1002.7 208.6,1002.9 209.7,1001.6 210.8,1000.3 211.9,999.4 213.0,999.4 214.1,999.9 215.2,1000.7 216.3,1000.6 217.4,999.8 218.5,999.4 219.6,998.7 220.7,999.0 221.8,999.7 222.9,1000.5 224.0,1000.6 225.1,999.1 226.2,998.3 227.3,998.4 228.4,997.9 229.5,997.3 230.6,997.2 231.7,997.7 232.8,998.0 233.9,998.8 235.0,999.3 236.1,998.7 237.2,998.0 238.3,997.7 239.4,997.5 240.5,997.2 241.6,996.3 242.7,994.8 243.8,994.4 244.9,994.8 246.0,995.2 247.1,995.5 248.2,996.0 249.3,996.3 250.4,996.2 251.5,996.2 252.6,996.0 253.7,995.3 254.8,994.4 255.9,993.9 257.0,993.6 258.1,993.7 259.2,993.6 260.3,993.2 261.4,993.0 262.5,992.8 263.6,992.7 264.7,993.6 265.8,993.9 266.9,993.0 268.0,992.2 269.1,991.7 270.2,992.1 271.3,991.8 272.4,990.9 273.5,991.1 274.6,991.1 275.7,990.2 276.8,990.2 277.9,990.4 279.0,989.5 280.1,988.7 281.2,988.1 282.3,988.0 283.4,987.8 284.5,986.5 285.6,985.2 286.7,984.7 287.8,985.4 288.9,985.2 290.0,983.9 291.1,983.1 292.2,983.3 293.3,983.1 294.4,982.6 295.5,982.2 296.6,981.1 297.7,981.6 298.8,981.7 299.9,981.7 301.0,981.1 302.1,980.0 303.2,979.2 304.3,979.1 305.4,979.4 306.5,978.8 307.6,977.3 308.7,976.5 309.8,976.5 310.9,976.1 312.0,975.5 313.1,975.3 314.2,974.9 315.3,974.2 316.4,973.8 317.5,972.9 318.6,972.1 319.7,971.5 320.8,971.1 321.9,970.8 323.0,970.7 324.1,970.9 325.2,971.0 326.3,970.6 327.4,970.4 328.5,969.5 329.6,968.3 330.7,968.0 331.8,967.9 332.9,967.5 334.0,967.4 335.1,966.9 336.2,966.0 337.3,965.1 338.4,964.9 339.5,965.7 340.6,966.0 341.7,965.0 342.8,964.3 343.9,964.7 345.0,964.7 346.1,964.0 347.2,963.5 348.3,963.5 349.4,963.1 350.5,962.4 351.6,962.2 352.7,962.0 353.8,961.8 354.9,961.5 356.0,960.6 357.1,959.6 358.2,958.7 359.3,958.8 360.4,959.0 361.5,958.8 362.6,959.7 363.7,959.6 364.8,959.0 365.9,958.6 367.0,958.4 368.1,956.6 369.2,956.2 370.3,955.8 371.4,955.4 372.5,956.4 373.6,956.8 374.7,956.6 375.8,956.4 376.9,955.3 378.0,954.7 379.1,954.1 380.2,953.5 381.3,955.6 382.4,956.0 383.5,955.1 384.6,953.5 385.7,952.7 386.8,951.9 387.9,952.2 389.0,953.1 390.1,953.4 391.2,952.2 392.3,950.7 393.4,950.4 394.5,951.3 395.6,951.9 396.7,951.3 397.8,949.9 398.9,949.3 400.0,949.4 401.1,948.7 402.2,947.9 403.3,947.5 404.4,947.5 405.5,947.5 406.6,947.2 407.7,947.0 408.8,946.7 409.9,946.0 411.0,945.3 412.1,945.3 413.2,946.0 414.3,946.0 415.4,946.0 416.5,946.1 417.6,946.2 418.7,946.8 419.8,947.4 420.9,946.9 422.0,945.0 423.1,943.9 424.2,942.9 425.3,942.6 426.4,942.7 427.5,943.2 428.6,942.4 429.7,941.2 430.8,940.4 431.9,939.8 433.0,939.8 434.1,940.7 435.2,940.3 436.3,939.5 437.4,939.8 438.5,940.3 439.6,940.6 440.7,940.5 441.8,939.8 442.9,938.7 444.0,937.9 445.1,938.5 446.2,938.7 447.3,938.0 448.4,937.3 449.5,937.0 450.6,936.5 451.7,935.4 452.8,934.5 453.9,933.0 455.0,932.5 456.1,932.0 457.2,931.9 458.3,932.6 459.4,932.5 460.5,932.8 461.6,932.7 462.7,932.9 463.8,933.3 464.9,933.4 466.0,934.1 467.1,934.6 468.2,933.6 469.3,932.7 470.4,931.8 471.5,930.5 472.6,929.2 473.7,929.1 474.8,929.3 475.9,929.6 477.0,930.5 478.1,931.3 479.2,932.1 480.3,931.1 481.4,929.1 482.5,927.7 483.6,926.8 484.7,926.4 485.8,926.5 486.9,925.5 488.0,924.2 489.1,923.9 490.2,925.4 491.3,926.7 492.4,927.8 493.5,925.4 494.6,923.7 495.7,922.9 496.8,922.5 497.9,923.5 499.0,924.1 500.1,924.5 501.2,924.4 502.3,924.2 503.4,924.2 504.5,924.0 505.6,923.2 506.7,922.0 507.8,921.7 508.9,922.6 510.0,923.3 511.1,924.1 512.2,925.0 513.3,924.8 514.4,924.7 515.5,925.3 516.6,926.0 517.7,926.8 518.8,926.8 519.9,926.3 521.0,925.3 522.1,925.1 523.2,925.0 524.3,925.6 525.4,924.9 526.5,924.2 527.6,923.6 528.7,923.7 529.8,923.8 530.9,923.1 532.0,923.6 533.1,925.0 534.2,925.9 535.3,924.9 536.4,924.3 537.5,924.2 538.6,925.0 539.7,925.7 540.8,926.8 541.9,927.1 543.0,926.9 544.1,926.9 545.2,927.0 546.3,927.0 547.4,927.4 548.5,928.1 549.6,928.6 550.7,927.9 551.8,926.6 552.9,925.4 554.0,925.9 555.1,926.2 556.2,926.2 557.3,926.9 558.4,927.5 559.5,927.7 560.6,928.5 561.7,929.8 562.8,930.4 563.9,930.6 565.0,930.7 566.1,929.8 567.2,926.8 568.3,924.5 569.4,922.2 570.5,920.4 571.6,918.6 572.7,916.4 573.8,914.2 574.9,912.6 576.0,912.6 577.1,913.5 578.2,913.6 579.3,913.4 580.4,912.6 581.5,912.7 582.6,911.5 583.7,909.0 584.8,907.1 585.9,905.9 587.0,904.4 588.1,902.9 589.2,901.4 590.3,900.2 591.4,898.3 592.5,896.8 593.6,896.2 594.7,894.9 595.8,891.6 596.9,888.2 598.0,885.4 599.1,883.4 600.2,880.6 601.3,877.3 602.4,876.0 603.5,875.0 604.6,874.2 605.7,873.7 606.8,872.4 607.9,870.2 609.0,869.2 610.1,868.8 611.2,868.5 612.3,868.7 613.4,869.3 614.5,870.0 615.6,869.6 616.7,869.2 617.8,869.1 618.9,869.9 620.0,871.0 621.1,871.6 622.2,871.3 623.3,871.1 624.4,871.6 625.5,872.8 626.6,874.7 627.7,875.6 628.8,875.1 629.9,874.4 631.0,874.6 632.1,875.1 633.2,875.2 634.3,875.0 635.4,874.7 636.5,874.2 637.6,875.1 638.7,876.5 639.8,878.4 640.9,878.1 642.0,877.2 643.1,876.0 644.2,876.8 645.3,876.9 646.4,876.3 647.5,876.5 648.6,877.0 649.7,876.6 650.8,876.6 651.9,876.3 653.0,876.0 654.1,877.1 655.2,878.4 656.3,879.1 657.4,879.4 658.5,880.5 659.6,881.2 660.7,881.0 661.8,880.8 662.9,880.7 664.0,881.4 665.1,881.9 666.2,881.8 667.3,881.6 668.4,880.9 669.5,880.9 670.6,882.1 671.7,883.3 672.8,883.5 673.9,883.6 675.0,884.6 676.1,885.3 677.2,884.5 678.3,882.9 679.4,882.3 680.5,881.8 681.6,881.1 682.7,881.0 683.8,881.5 684.9,882.0 686.0,881.3 687.1,881.7 688.2,879.9 689.3,879.6 690.4,878.8 691.5,879.4 692.6,878.7 693.7,878.3 694.8,877.2 695.9,875.4 697.0,874.2 698.1,873.4 699.2,872.4 700.3,871.4 701.4,871.1 702.5,870.6 703.6,869.7 704.7,869.1 705.8,868.6 706.9,868.0 708.0,868.3 709.1,868.8 710.2,868.9 711.3,868.3 712.4,867.3 713.5,865.9 714.6,866.0 715.7,866.8 716.8,867.2 717.9,866.3 719.0,865.3 720.1,864.7 721.2,865.6 722.3,866.1 723.4,865.9 724.5,863.4 725.6,862.8 726.7,862.4 727.8,862.5 728.9,862.9 730.0,863.7 731.1,863.3 732.2,862.1 733.3,861.5 734.4,860.4 735.5,861.6 736.6,862.3 737.7,862.4 738.8,863.0 739.9,864.0 741.0,864.2 742.1,864.6 743.2,865.1 744.3,865.3 745.4,865.8 746.5,866.1 747.6,865.0 748.7,863.5 749.8,862.8 750.9,863.5 752.0,864.4 753.1,864.7 754.2,863.4 755.3,862.4 756.4,860.5 757.5,861.5 758.6,863.0 759.7,864.2 760.8,865.2 761.9,866.0 763.0,865.9 764.1,866.4 765.2,866.1 766.3,865.8 767.4,865.8 768.5,865.8 769.6,865.2 770.7,865.1 771.8,865.7 772.9,866.5 774.0,867.8 775.1,869.1 776.2,869.8 777.3,869.7 778.4,869.7 779.5,869.4 780.6,868.7 781.7,867.8 782.8,867.9 783.9,869.2 785.0,870.8 786.1,870.4 787.2,869.6 788.3,869.3 789.4,869.5 790.5,869.6 791.6,868.8 792.7,868.8 793.8,869.6 794.9,870.2 796.0,869.8 797.1,869.8 798.2,869.2 799.3,868.8 800.4,868.7 801.5,868.5 802.6,868.8 803.7,869.0 804.8,869.1 805.9,869.4 807.0,870.0 808.1,870.9 809.2,871.4 810.3,871.6 811.4,871.8 812.5,872.3 813.6,873.6 814.7,873.8 815.8,872.4 816.9,871.4 818.0,871.2 819.1,871.3 820.2,871.9 821.3,871.8 822.4,871.0 823.5,870.5 824.6,870.4 825.7,870.1 826.8,869.5 827.9,871.3 829.0,873.7 830.1,874.5 831.2,875.0 832.3,875.7 833.4,875.5 834.5,874.9 835.6,874.1 836.7,874.2 837.8,875.0 838.9,875.3 840.0,875.9 841.1,875.4 842.2,876.2 843.3,876.6 844.4,876.9 845.5,876.3 846.6,874.5 847.7,873.6 848.8,873.1 849.9,873.3 851.0,873.5 852.1,873.4 853.2,872.6 854.3,871.4 855.4,871.4 856.5,871.7 857.6,871.8 858.7,872.7 859.8,874.1 860.9,874.8 862.0,874.4 863.1,874.4 864.2,874.6 865.3,874.4 866.4,873.7 867.5,873.1 868.6,874.0 869.7,875.4 870.8,876.6 871.9,876.5 873.0,876.3 874.1,875.6 875.2,875.4 876.3,875.0 877.4,873.9 878.5,874.2 879.6,875.1 880.7,875.1 881.8,876.2 882.9,878.0 884.0,878.6 885.1,876.7 886.2,875.2 887.3,874.5 888.4,874.9 889.5,875.3 890.6,874.5 891.7,873.3 892.8,872.7 893.9,873.2 895.0,874.2 896.1,874.7 897.2,874.6 898.3,874.0 899.4,873.3 900.5,873.7 901.6,874.4 902.7,875.4 903.8,876.7 904.9,877.1 906.0,877.5 907.1,877.2 908.2,876.6 909.3,876.0 910.4,875.7 911.5,875.0 912.6,874.8 913.7,874.7 914.8,874.0 915.9,873.2 917.0,873.5 918.1,873.4 919.2,873.2 920.3,873.8 921.4,874.4 922.5,874.7 923.6,875.1 924.7,875.5 925.8,875.8 926.9,875.4 928.0,874.2 929.1,873.3 930.2,873.4 931.3,873.1 932.4,872.7 933.5,872.9 934.6,873.3 935.7,873.6 936.8,873.6 937.9,873.2 939.0,873.1 940.1,873.5 941.2,874.6 942.3,876.1 943.4,877.0 944.5,877.1 945.6,876.3 946.7,875.4 947.8,874.4 948.9,874.4 950.0,874.5 951.1,875.4 952.2,874.9 953.3,873.6 954.4,872.7 955.5,872.7 956.6,872.4 957.7,871.8"/>
<polyline stroke="#A2AD00" stroke-width="3.4" points="154.7,991.7 155.8,994.7 156.9,997.0 158.0,999.9 159.1,999.3 160.2,995.2 161.3,991.8 162.4,990.5 163.5,990.3 164.6,988.7 165.7,986.2 166.8,987.1 167.9,990.4 169.0,992.7 170.1,991.9 171.2,991.5 172.3,992.1 173.4,991.3 174.5,991.0 175.6,990.7 176.7,989.2 177.8,987.6 178.9,986.2 180.0,984.4 181.1,983.5 182.2,982.9 183.3,982.4 184.4,982.1 185.5,983.3 186.6,984.6 187.7,986.2 188.8,988.0 189.9,990.1 191.0,990.4 192.1,987.7 193.2,986.2 194.3,983.9 195.4,981.4 196.5,980.4 197.6,981.0 198.7,982.2 199.8,982.7 200.9,982.5 202.0,980.6 203.1,977.9 204.2,978.1 205.3,980.5 206.4,982.1 207.5,981.6 208.6,980.1 209.7,978.5 210.8,979.7 211.9,981.2 213.0,982.0 214.1,980.6 215.2,978.7 216.3,976.2 217.4,975.6 218.5,977.3 219.6,979.8 220.7,982.5 221.8,981.6 222.9,981.9 224.0,982.8 225.1,980.6 226.2,979.3 227.3,979.5 228.4,980.6 229.5,981.4 230.6,981.8 231.7,981.2 232.8,979.9 233.9,977.9 235.0,975.9 236.1,974.6 237.2,974.2 238.3,975.2 239.4,976.5 240.5,979.1 241.6,978.1 242.7,973.0 243.8,968.7 244.9,969.8 246.0,972.6 247.1,974.4 248.2,974.3 249.3,973.5 250.4,973.4 251.5,975.1 252.6,976.2 253.7,977.9 254.8,980.5 255.9,978.5 257.0,976.1 258.1,974.8 259.2,974.1 260.3,972.7 261.4,970.4 262.5,967.5 263.6,965.6 264.7,965.7 265.8,964.5 266.9,966.4 268.0,969.4 269.1,970.0 270.2,966.5 271.3,962.9 272.4,959.6 273.5,961.2 274.6,964.9 275.7,965.8 276.8,964.9 277.9,962.9 279.0,962.9 280.1,965.0 281.2,966.2 282.3,967.3 283.4,969.8 284.5,970.7 285.6,969.2 286.7,966.5 287.8,963.9 288.9,961.7 290.0,960.1 291.1,958.0 292.2,954.2 293.3,951.7 294.4,954.6 295.5,957.1 296.6,955.7 297.7,955.4 298.8,956.0 299.9,957.0 301.0,957.2 302.1,957.6 303.2,956.9 304.3,955.8 305.4,957.4 306.5,957.7 307.6,956.9 308.7,956.7 309.8,956.8 310.9,956.3 312.0,954.7 313.1,953.1 314.2,952.9 315.3,952.2 316.4,950.0 317.5,947.6 318.6,945.5 319.7,944.1 320.8,945.3 321.9,946.9 323.0,947.3 324.1,945.5 325.2,943.9 326.3,942.9 327.4,943.6 328.5,944.8 329.6,946.1 330.7,945.2 331.8,943.8 332.9,941.4 334.0,939.6 335.1,941.0 336.2,942.6 337.3,944.6 338.4,946.4 339.5,947.7 340.6,947.2 341.7,945.8 342.8,944.8 343.9,943.4 345.0,941.9 346.1,940.5 347.2,939.0 348.3,935.8 349.4,933.3 350.5,931.8 351.6,932.1 352.7,932.3 353.8,932.0 354.9,932.8 356.0,935.2 357.1,935.2 358.2,932.4 359.3,930.4 360.4,929.4 361.5,927.6 362.6,926.7 363.7,927.3 364.8,927.5 365.9,927.7 367.0,928.6 368.1,928.7 369.2,929.3 370.3,929.7 371.4,928.2 372.5,925.5 373.6,924.9 374.7,924.7 375.8,922.8 376.9,921.7 378.0,921.2 379.1,921.0 380.2,923.0 381.3,925.8 382.4,923.0 383.5,916.1 384.6,910.5 385.7,911.6 386.8,914.7 387.9,914.1 389.0,912.9 390.1,910.4 391.2,907.5 392.3,905.3 393.4,905.8 394.5,907.6 395.6,909.9 396.7,911.2 397.8,911.2 398.9,909.6 400.0,909.8 401.1,910.3 402.2,911.8 403.3,914.0 404.4,913.2 405.5,909.2 406.6,904.6 407.7,901.4 408.8,899.4 409.9,898.6 411.0,901.5 412.1,904.4 413.2,905.2 414.3,906.1 415.4,906.1 416.5,903.3 417.6,900.6 418.7,898.0 419.8,895.9 420.9,895.2 422.0,897.2 423.1,898.6 424.2,899.6 425.3,898.4 426.4,896.6 427.5,895.2 428.6,894.4 429.7,892.5 430.8,894.2 431.9,896.9 433.0,897.5 434.1,896.4 435.2,895.6 436.3,896.3 437.4,897.0 438.5,897.5 439.6,897.5 440.7,898.3 441.8,900.7 442.9,902.9 444.0,903.8 445.1,899.6 446.2,896.2 447.3,894.4 448.4,891.9 449.5,890.0 450.6,890.3 451.7,892.1 452.8,891.5 453.9,888.7 455.0,886.8 456.1,885.1 457.2,883.5 458.3,883.0 459.4,883.6 460.5,884.3 461.6,884.8 462.7,883.2 463.8,881.7 464.9,881.4 466.0,883.0 467.1,885.6 468.2,887.7 469.3,888.6 470.4,889.0 471.5,887.5 472.6,886.6 473.7,887.2 474.8,887.6 475.9,889.5 477.0,892.7 478.1,894.1 479.2,891.4 480.3,891.0 481.4,889.0 482.5,886.6 483.6,883.5 484.7,880.9 485.8,878.8 486.9,876.5 488.0,879.8 489.1,884.2 490.2,886.3 491.3,886.3 492.4,886.7 493.5,886.6 494.6,886.3 495.7,885.8 496.8,889.0 497.9,890.2 499.0,889.4 500.1,888.6 501.2,888.2 502.3,886.2 503.4,883.1 504.5,883.8 505.6,886.0 506.7,888.2 507.8,886.5 508.9,884.3 510.0,883.4 511.1,883.5 512.2,882.5 513.3,879.0 514.4,877.1 515.5,875.9 516.6,874.2 517.7,873.1 518.8,874.6 519.9,876.2 521.0,877.0 522.1,876.2 523.2,875.1 524.3,873.1 525.4,870.8 526.5,868.9 527.6,873.0 528.7,876.9 529.8,878.9 530.9,873.2 532.0,868.6 533.1,865.2 534.2,863.2 535.3,863.0 536.4,866.4 537.5,869.3 538.6,871.2 539.7,872.5 540.8,875.1 541.9,876.1 543.0,875.5 544.1,876.2 545.2,878.3 546.3,879.7 547.4,878.0 548.5,874.3 549.6,872.0 550.7,871.1 551.8,871.3 552.9,872.0 554.0,871.6 555.1,870.8 556.2,871.2 557.3,872.3 558.4,871.3 559.5,871.5 560.6,872.2 561.7,872.2 562.8,871.6 563.9,873.6 565.0,872.0 566.1,872.6 567.2,871.6 568.3,870.4 569.4,870.8 570.5,872.6 571.6,874.3 572.7,871.4 573.8,868.9 574.9,867.9 576.0,866.0 577.1,865.3 578.2,870.1 579.3,873.4 580.4,871.9 581.5,870.2 582.6,869.5 583.7,868.2 584.8,867.5 585.9,866.8 587.0,865.4 588.1,864.6 589.2,862.7 590.3,859.5 591.4,856.3 592.5,854.1 593.6,852.4 594.7,848.9 595.8,844.8 596.9,842.0 598.0,841.5 599.1,840.4 600.2,839.8 601.3,840.1 602.4,841.6 603.5,841.7 604.6,840.6 605.7,839.7 606.8,840.7 607.9,841.2 609.0,838.0 610.1,836.5 611.2,834.8 612.3,834.9 613.4,833.5 614.5,835.1 615.6,835.4 616.7,834.8 617.8,832.7 618.9,830.6 620.0,828.4 621.1,827.9 622.2,828.8 623.3,829.0 624.4,827.1 625.5,824.8 626.6,824.7 627.7,826.7 628.8,828.5 629.9,826.6 631.0,824.5 632.1,822.4 633.2,820.4 634.3,819.7 635.4,822.9 636.5,825.7 637.6,828.6 638.7,833.8 639.8,838.7 640.9,835.6 642.0,831.1 643.1,829.2 644.2,829.0 645.3,828.9 646.4,827.2 647.5,825.0 648.6,824.0 649.7,825.0 650.8,828.2 651.9,831.3 653.0,832.8 654.1,834.3 655.2,835.6 656.3,832.6 657.4,829.7 658.5,828.0 659.6,826.4 660.7,823.5 661.8,824.1 662.9,826.9 664.0,829.2 665.1,827.3 666.2,825.3 667.3,824.2 668.4,822.7 669.5,820.7 670.6,821.7 671.7,824.3 672.8,827.5 673.9,829.0 675.0,829.5 676.1,829.8 677.2,827.0 678.3,823.9 679.4,822.8 680.5,822.2 681.6,820.4 682.7,818.8 683.8,817.7 684.9,817.1 686.0,816.1 687.1,816.2 688.2,818.3 689.3,821.5 690.4,826.2 691.5,828.9 692.6,824.1 693.7,819.3 694.8,816.7 695.9,813.7 697.0,811.4 698.1,812.3 699.2,814.0 700.3,812.6 701.4,810.0 702.5,807.3 703.6,805.2 704.7,805.2 705.8,806.3 706.9,807.5 708.0,808.1 709.1,806.7 710.2,806.0 711.3,805.6 712.4,805.4 713.5,806.3 714.6,807.5 715.7,806.0 716.8,805.1 717.9,804.1 719.0,802.4 720.1,799.9 721.2,797.5 722.3,798.3 723.4,799.8 724.5,801.1 725.6,800.2 726.7,799.7 727.8,799.5 728.9,797.4 730.0,794.3 731.1,794.1 732.2,798.6 733.3,801.7 734.4,805.1 735.5,809.6 736.6,806.9 737.7,801.1 738.8,796.0 739.9,792.6 741.0,789.8 742.1,791.1 743.2,792.5 744.3,793.1 745.4,795.3 746.5,797.4 747.6,800.2 748.7,803.2 749.8,804.0 750.9,803.5 752.0,803.0 753.1,802.5 754.2,803.1 755.3,803.1 756.4,801.5 757.5,795.6 758.6,789.7 759.7,790.5 760.8,795.3 761.9,799.5 763.0,802.4 764.1,803.6 765.2,799.2 766.3,795.8 767.4,796.6 768.5,798.0 769.6,796.7 770.7,794.0 771.8,793.3 772.9,793.8 774.0,795.2 775.1,797.3 776.2,797.9 777.3,800.1 778.4,798.3 779.5,795.8 780.6,794.6 781.7,793.2 782.8,789.1 783.9,783.1 785.0,782.4 786.1,787.8 787.2,794.6 788.3,800.2 789.4,802.2 790.5,799.2 791.6,796.1 792.7,795.5 793.8,795.1 794.9,793.8 796.0,793.2 797.1,792.8 798.2,791.4 799.3,790.4 800.4,789.7 801.5,789.7 802.6,790.5 803.7,790.5 804.8,791.7 805.9,792.3 807.0,792.0 808.1,791.0 809.2,790.4 810.3,790.2 811.4,790.2 812.5,789.6 813.6,789.1 814.7,787.5 815.8,785.2 816.9,785.4 818.0,788.3 819.1,790.7 820.2,790.8 821.3,789.7 822.4,789.0 823.5,790.2 824.6,791.1 825.7,791.9 826.8,792.7 827.9,793.2 829.0,793.1 830.1,795.2 831.2,798.3 832.3,795.7 833.4,792.2 834.5,788.4 835.6,790.1 836.7,792.5 837.8,793.7 838.9,793.1 840.0,792.2 841.1,791.9 842.2,791.8 843.3,791.5 844.4,790.6 845.5,790.3 846.6,791.0 847.7,790.2 848.8,787.2 849.9,787.3 851.0,791.2 852.1,793.8 853.2,792.5 854.3,790.6 855.4,789.3 856.5,791.0 857.6,792.7 858.7,795.6 859.8,799.3 860.9,798.6 862.0,795.7 863.1,792.7 864.2,790.0 865.3,786.8 866.4,788.4 867.5,792.2 868.6,794.6 869.7,791.7 870.8,787.9 871.9,784.5 873.0,782.7 874.1,780.1 875.2,780.0 876.3,780.6 877.4,780.5 878.5,783.6 879.6,787.1 880.7,789.6 881.8,790.3 882.9,789.8 884.0,787.1 885.1,785.4 886.2,787.8 887.3,789.6 888.4,791.0 889.5,792.5 890.6,793.9 891.7,791.9 892.8,788.9 893.9,788.5 895.0,791.3 896.1,793.8 897.2,794.2 898.3,792.8 899.4,791.4 900.5,789.6 901.6,787.6 902.7,787.3 903.8,788.2 904.9,789.6 906.0,787.6 907.1,784.5 908.2,782.1 909.3,779.0 910.4,776.5 911.5,774.9 912.6,778.4 913.7,781.9 914.8,785.4 915.9,790.0 917.0,795.1 918.1,791.9 919.2,786.4 920.3,782.6 921.4,781.9 922.5,783.3 923.6,786.0 924.7,786.1 925.8,784.9 926.9,784.0 928.0,782.0 929.1,781.8 930.2,782.5 931.3,782.0 932.4,781.4 933.5,780.8 934.6,779.9 935.7,781.9 936.8,784.6 937.9,786.5 939.0,787.2 940.1,784.3 941.2,781.1 942.3,776.9 943.4,775.7 944.5,772.3 945.6,773.0 946.7,773.7 947.8,777.8 948.9,781.7 950.0,784.3 951.1,786.0 952.2,784.6 953.3,784.2 954.4,783.6 955.5,783.3 956.6,784.5 957.7,784.7"/>
</g>
<g id="loq" fill="none" stroke-width="2.6" stroke-dasharray="11.3 7.4">
<line stroke="#A2AD00" x1="153" y1="566.6" x2="971.3" y2="566.6"/>
<line stroke="#EC7A1F" x1="153" y1="657.4" x2="971.3" y2="657.4"/>
<line stroke="#0065BD" x1="153" y1="671.7" x2="971.3" y2="671.7"/>
</g>
<g id="vmark" font-size="17" color="#808080">
<rect x="221.2" y="358" width="34.8" height="53" fill="#fff"/>
<text transform="translate(242.9,409.6) rotate(-90)">3.55 V</text>
<rect x="545.5" y="358" width="31.2" height="53" fill="#fff"/>
<text transform="translate(566.6,409.6) rotate(-90)">4.25 V</text>
<rect x="681.5" y="358" width="29.1" height="53" fill="#fff"/>
<text transform="translate(703.3,409.6) rotate(-90)">4.05 V</text>
</g>
<g id="vlines" stroke="#000" stroke-width="2.9" stroke-dasharray="4.4 4.985" fill="none">
<line x1="251.5" y1="91.6" x2="251.5" y2="1014"/>
<line x1="448.7" y1="91.6" x2="448.7" y2="1014"/>
<line x1="578.5" y1="91.6" x2="578.5" y2="1014"/>
<line x1="680.2" y1="91.6" x2="680.2" y2="1014"/>
</g>
<g id="labels">
<rect x="164.3" y="97" width="42" height="46" fill="#fff"/>
<rect x="164.3" y="416" width="46.7" height="44" fill="#fff"/>
<rect x="164.3" y="730" width="44.3" height="41" fill="#fff"/>
<text x="167.8" y="129.9" font-size="27.6">(a)</text>
<text x="170.2" y="446" font-size="27.6">(b)</text>
<text x="170.8" y="759.2" font-size="27.6">(c)</text>
<rect x="178" y="528" width="135" height="33" fill="#fff"/>
<text x="182.6" y="550.1" font-size="23.2" color="#A2AD00"><tspan font-style="italic">LOQ</tspan> (LP57)</text>
<rect x="716.5" y="620" width="131.2" height="32" fill="#fff"/>
<text x="719.3" y="645.4" font-size="23.2" color="#EC7A1F"><tspan font-style="italic">LOQ</tspan> (LP47)</text>
<rect x="335.3" y="677" width="260" height="35" fill="#fff"/>
<text x="338.5" y="701.3" font-size="23.2" color="#0065BD"><tspan font-style="italic">LOQ</tspan> (EC + 1.5 M LiPF<tspan font-size="15.3" dy="6">6</tspan><tspan dy="-6">)</tspan></text>
</g>
<g id="legend">
<rect x="257.7" y="243.8" width="581.8" height="92.4" fill="#fff" stroke="#000" stroke-width="3"/>
<text x="265.4" y="276.3" font-size="27.3">O<tspan font-size="18.2" dy="7.5">2</tspan><tspan dy="-7.5"> Evolution at 45 °C:</tspan></text>
<line x1="263.8" y1="307.5" x2="328" y2="307.5" stroke="#0065BD" stroke-width="2.8"/>
<text x="335.6" y="317.8" font-size="27.15">EC + 1.5 M LiPF<tspan font-size="18.2" dy="7.8">6</tspan></text>
<line x1="555.2" y1="307.5" x2="619" y2="307.5" stroke="#A2AD00" stroke-width="2.8"/>
<text x="626.4" y="317.8" font-size="27">LP57</text>
<line x1="697" y1="307.5" x2="760.3" y2="307.5" stroke="#EC7A1F" stroke-width="2.8"/>
<text x="767.7" y="317.8" font-size="27">LP47</text>
</g>
<g id="axes" stroke="#000" stroke-width="3" fill="none" stroke-linecap="butt">
<line x1="153" y1="89.5" x2="153" y2="382.7"/>
<line x1="978.7" y1="89.5" x2="978.7" y2="382.7"/>
<line x1="153" y1="409.05" x2="153" y2="702.45"/>
<line x1="978.7" y1="409.05" x2="978.7" y2="702.45"/>
<line x1="153" y1="722.92" x2="153" y2="1016.1"/>
<line x1="978.7" y1="722.92" x2="978.7" y2="1016.1"/>
<line x1="151.5" y1="90.6" x2="980.2" y2="90.6"/>
<line x1="151.5" y1="1014.6" x2="980.2" y2="1014.6"/>
<line x1="153" y1="381.2" x2="163.5" y2="381.2"/>
<line x1="978.7" y1="381.2" x2="968.2" y2="381.2"/>
<line x1="153" y1="366.69" x2="158.8" y2="366.69"/>
<line x1="978.7" y1="366.69" x2="972.9" y2="366.69"/>
<line x1="153" y1="352.18" x2="158.8" y2="352.18"/>
<line x1="978.7" y1="352.18" x2="972.9" y2="352.18"/>
<line x1="153" y1="337.67" x2="158.8" y2="337.67"/>
<line x1="978.7" y1="337.67" x2="972.9" y2="337.67"/>
<line x1="153" y1="323.16" x2="158.8" y2="323.16"/>
<line x1="978.7" y1="323.16" x2="972.9" y2="323.16"/>
<line x1="153" y1="308.65" x2="163.5" y2="308.65"/>
<line x1="978.7" y1="308.65" x2="968.2" y2="308.65"/>
<line x1="153" y1="294.14" x2="158.8" y2="294.14"/>
<line x1="978.7" y1="294.14" x2="972.9" y2="294.14"/>
<line x1="153" y1="279.63" x2="158.8" y2="279.63"/>
<line x1="978.7" y1="279.63" x2="972.9" y2="279.63"/>
<line x1="153" y1="265.12" x2="158.8" y2="265.12"/>
<line x1="978.7" y1="265.12" x2="972.9" y2="265.12"/>
<line x1="153" y1="250.61" x2="158.8" y2="250.61"/>
<line x1="978.7" y1="250.61" x2="972.9" y2="250.61"/>
<line x1="153" y1="236.1" x2="163.5" y2="236.1"/>
<line x1="978.7" y1="236.1" x2="968.2" y2="236.1"/>
<line x1="153" y1="221.59" x2="158.8" y2="221.59"/>
<line x1="978.7" y1="221.59" x2="972.9" y2="221.59"/>
<line x1="153" y1="207.08" x2="158.8" y2="207.08"/>
<line x1="978.7" y1="207.08" x2="972.9" y2="207.08"/>
<line x1="153" y1="192.57" x2="158.8" y2="192.57"/>
<line x1="978.7" y1="192.57" x2="972.9" y2="192.57"/>
<line x1="153" y1="178.06" x2="158.8" y2="178.06"/>
<line x1="978.7" y1="178.06" x2="972.9" y2="178.06"/>
<line x1="153" y1="163.55" x2="163.5" y2="163.55"/>
<line x1="978.7" y1="163.55" x2="968.2" y2="163.55"/>
<line x1="153" y1="149.04" x2="158.8" y2="149.04"/>
<line x1="978.7" y1="149.04" x2="972.9" y2="149.04"/>
<line x1="153" y1="134.53" x2="158.8" y2="134.53"/>
<line x1="978.7" y1="134.53" x2="972.9" y2="134.53"/>
<line x1="153" y1="120.02" x2="158.8" y2="120.02"/>
<line x1="978.7" y1="120.02" x2="972.9" y2="120.02"/>
<line x1="153" y1="105.51" x2="158.8" y2="105.51"/>
<line x1="978.7" y1="105.51" x2="972.9" y2="105.51"/>
<line x1="153" y1="91" x2="163.5" y2="91"/>
<line x1="978.7" y1="91" x2="968.2" y2="91"/>
<line x1="153" y1="700.95" x2="158.8" y2="700.95"/>
<line x1="978.7" y1="700.95" x2="972.9" y2="700.95"/>
<line x1="153" y1="682.8" x2="163.5" y2="682.8"/>
<line x1="978.7" y1="682.8" x2="968.2" y2="682.8"/>
<line x1="153" y1="664.65" x2="158.8" y2="664.65"/>
<line x1="978.7" y1="664.65" x2="972.9" y2="664.65"/>
<line x1="153" y1="646.5" x2="158.8" y2="646.5"/>
<line x1="978.7" y1="646.5" x2="972.9" y2="646.5"/>
<line x1="153" y1="628.35" x2="158.8" y2="628.35"/>
<line x1="978.7" y1="628.35" x2="972.9" y2="628.35"/>
<line x1="153" y1="610.2" x2="158.8" y2="610.2"/>
<line x1="978.7" y1="610.2" x2="972.9" y2="610.2"/>
<line x1="153" y1="592.05" x2="163.5" y2="592.05"/>
<line x1="978.7" y1="592.05" x2="968.2" y2="592.05"/>
<line x1="153" y1="573.9" x2="158.8" y2="573.9"/>
<line x1="978.7" y1="573.9" x2="972.9" y2="573.9"/>
<line x1="153" y1="555.75" x2="158.8" y2="555.75"/>
<line x1="978.7" y1="555.75" x2="972.9" y2="555.75"/>
<line x1="153" y1="537.6" x2="158.8" y2="537.6"/>
<line x1="978.7" y1="537.6" x2="972.9" y2="537.6"/>
<line x1="153" y1="519.45" x2="158.8" y2="519.45"/>
<line x1="978.7" y1="519.45" x2="972.9" y2="519.45"/>
<line x1="153" y1="501.3" x2="163.5" y2="501.3"/>
<line x1="978.7" y1="501.3" x2="968.2" y2="501.3"/>
<line x1="153" y1="483.15" x2="158.8" y2="483.15"/>
<line x1="978.7" y1="483.15" x2="972.9" y2="483.15"/>
<line x1="153" y1="465" x2="158.8" y2="465"/>
<line x1="978.7" y1="465" x2="972.9" y2="465"/>
<line x1="153" y1="446.85" x2="158.8" y2="446.85"/>
<line x1="978.7" y1="446.85" x2="972.9" y2="446.85"/>
<line x1="153" y1="428.7" x2="158.8" y2="428.7"/>
<line x1="978.7" y1="428.7" x2="972.9" y2="428.7"/>
<line x1="153" y1="410.55" x2="163.5" y2="410.55"/>
<line x1="978.7" y1="410.55" x2="968.2" y2="410.55"/>
<line x1="153" y1="1006.22" x2="158.8" y2="1006.22"/>
<line x1="978.7" y1="1006.22" x2="972.9" y2="1006.22"/>
<line x1="153" y1="992.8" x2="163.5" y2="992.8"/>
<line x1="978.7" y1="992.8" x2="968.2" y2="992.8"/>
<line x1="153" y1="979.38" x2="158.8" y2="979.38"/>
<line x1="978.7" y1="979.38" x2="972.9" y2="979.38"/>
<line x1="153" y1="965.96" x2="158.8" y2="965.96"/>
<line x1="978.7" y1="965.96" x2="972.9" y2="965.96"/>
<line x1="153" y1="952.54" x2="158.8" y2="952.54"/>
<line x1="978.7" y1="952.54" x2="972.9" y2="952.54"/>
<line x1="153" y1="939.12" x2="163.5" y2="939.12"/>
<line x1="978.7" y1="939.12" x2="968.2" y2="939.12"/>
<line x1="153" y1="925.71" x2="158.8" y2="925.71"/>
<line x1="978.7" y1="925.71" x2="972.9" y2="925.71"/>
<line x1="153" y1="912.29" x2="158.8" y2="912.29"/>
<line x1="978.7" y1="912.29" x2="972.9" y2="912.29"/>
<line x1="153" y1="898.87" x2="158.8" y2="898.87"/>
<line x1="978.7" y1="898.87" x2="972.9" y2="898.87"/>
<line x1="153" y1="885.45" x2="163.5" y2="885.45"/>
<line x1="978.7" y1="885.45" x2="968.2" y2="885.45"/>
<line x1="153" y1="872.03" x2="158.8" y2="872.03"/>
<line x1="978.7" y1="872.03" x2="972.9" y2="872.03"/>
<line x1="153" y1="858.61" x2="158.8" y2="858.61"/>
<line x1="978.7" y1="858.61" x2="972.9" y2="858.61"/>
<line x1="153" y1="845.19" x2="158.8" y2="845.19"/>
<line x1="978.7" y1="845.19" x2="972.9" y2="845.19"/>
<line x1="153" y1="831.77" x2="163.5" y2="831.77"/>
<line x1="978.7" y1="831.77" x2="968.2" y2="831.77"/>
<line x1="153" y1="818.36" x2="158.8" y2="818.36"/>
<line x1="978.7" y1="818.36" x2="972.9" y2="818.36"/>
<line x1="153" y1="804.94" x2="158.8" y2="804.94"/>
<line x1="978.7" y1="804.94" x2="972.9" y2="804.94"/>
<line x1="153" y1="791.52" x2="158.8" y2="791.52"/>
<line x1="978.7" y1="791.52" x2="972.9" y2="791.52"/>
<line x1="153" y1="778.1" x2="163.5" y2="778.1"/>
<line x1="978.7" y1="778.1" x2="968.2" y2="778.1"/>
<line x1="153" y1="764.68" x2="158.8" y2="764.68"/>
<line x1="978.7" y1="764.68" x2="972.9" y2="764.68"/>
<line x1="153" y1="751.26" x2="158.8" y2="751.26"/>
<line x1="978.7" y1="751.26" x2="972.9" y2="751.26"/>
<line x1="153" y1="737.84" x2="158.8" y2="737.84"/>
<line x1="978.7" y1="737.84" x2="972.9" y2="737.84"/>
<line x1="153" y1="724.42" x2="163.5" y2="724.42"/>
<line x1="978.7" y1="724.42" x2="968.2" y2="724.42"/>
<line x1="153" y1="1014.6" x2="153" y2="1004.1"/>
<line x1="187.14" y1="1014.6" x2="187.14" y2="1008.8"/>
<line x1="221.28" y1="1014.6" x2="221.28" y2="1008.8"/>
<line x1="255.42" y1="1014.6" x2="255.42" y2="1008.8"/>
<line x1="289.56" y1="1014.6" x2="289.56" y2="1008.8"/>
<line x1="323.7" y1="1014.6" x2="323.7" y2="1004.1"/>
<line x1="357.84" y1="1014.6" x2="357.84" y2="1008.8"/>
<line x1="391.98" y1="1014.6" x2="391.98" y2="1008.8"/>
<line x1="426.12" y1="1014.6" x2="426.12" y2="1008.8"/>
<line x1="460.26" y1="1014.6" x2="460.26" y2="1008.8"/>
<line x1="494.4" y1="1014.6" x2="494.4" y2="1004.1"/>
<line x1="528.54" y1="1014.6" x2="528.54" y2="1008.8"/>
<line x1="562.68" y1="1014.6" x2="562.68" y2="1008.8"/>
<line x1="596.82" y1="1014.6" x2="596.82" y2="1008.8"/>
<line x1="630.96" y1="1014.6" x2="630.96" y2="1008.8"/>
<line x1="665.1" y1="1014.6" x2="665.1" y2="1004.1"/>
<line x1="699.24" y1="1014.6" x2="699.24" y2="1008.8"/>
<line x1="733.38" y1="1014.6" x2="733.38" y2="1008.8"/>
<line x1="767.52" y1="1014.6" x2="767.52" y2="1008.8"/>
<line x1="801.66" y1="1014.6" x2="801.66" y2="1008.8"/>
<line x1="835.8" y1="1014.6" x2="835.8" y2="1004.1"/>
<line x1="869.94" y1="1014.6" x2="869.94" y2="1008.8"/>
<line x1="904.08" y1="1014.6" x2="904.08" y2="1008.8"/>
<line x1="938.22" y1="1014.6" x2="938.22" y2="1008.8"/>
<line x1="972.36" y1="1014.6" x2="972.36" y2="1008.8"/>
<line x1="153" y1="91.0" x2="153" y2="101.5"/>
<line x1="162.87" y1="91.0" x2="162.87" y2="96.8"/>
<line x1="172.74" y1="91.0" x2="172.74" y2="96.8"/>
<line x1="182.61" y1="91.0" x2="182.61" y2="96.8"/>
<line x1="192.48" y1="91.0" x2="192.48" y2="96.8"/>
<line x1="202.35" y1="91.0" x2="202.35" y2="101.5"/>
<line x1="212.22" y1="91.0" x2="212.22" y2="96.8"/>
<line x1="222.09" y1="91.0" x2="222.09" y2="96.8"/>
<line x1="231.96" y1="91.0" x2="231.96" y2="96.8"/>
<line x1="241.83" y1="91.0" x2="241.83" y2="96.8"/>
<line x1="251.7" y1="91.0" x2="251.7" y2="101.5"/>
<line x1="261.57" y1="91.0" x2="261.57" y2="96.8"/>
<line x1="271.44" y1="91.0" x2="271.44" y2="96.8"/>
<line x1="281.31" y1="91.0" x2="281.31" y2="96.8"/>
<line x1="291.18" y1="91.0" x2="291.18" y2="96.8"/>
<line x1="301.05" y1="91.0" x2="301.05" y2="101.5"/>
<line x1="310.92" y1="91.0" x2="310.92" y2="96.8"/>
<line x1="320.79" y1="91.0" x2="320.79" y2="96.8"/>
<line x1="330.66" y1="91.0" x2="330.66" y2="96.8"/>
<line x1="340.53" y1="91.0" x2="340.53" y2="96.8"/>
<line x1="350.4" y1="91.0" x2="350.4" y2="101.5"/>
<line x1="360.27" y1="91.0" x2="360.27" y2="96.8"/>
<line x1="370.14" y1="91.0" x2="370.14" y2="96.8"/>
<line x1="380.01" y1="91.0" x2="380.01" y2="96.8"/>
<line x1="389.88" y1="91.0" x2="389.88" y2="96.8"/>
<line x1="399.75" y1="91.0" x2="399.75" y2="101.5"/>
<line x1="409.62" y1="91.0" x2="409.62" y2="96.8"/>
<line x1="419.49" y1="91.0" x2="419.49" y2="96.8"/>
<line x1="429.36" y1="91.0" x2="429.36" y2="96.8"/>
<line x1="439.23" y1="91.0" x2="439.23" y2="96.8"/>
<line x1="449.1" y1="91.0" x2="449.1" y2="101.5"/>
<line x1="458.97" y1="91.0" x2="458.97" y2="96.8"/>
<line x1="468.84" y1="91.0" x2="468.84" y2="96.8"/>
<line x1="478.71" y1="91.0" x2="478.71" y2="96.8"/>
<line x1="488.58" y1="91.0" x2="488.58" y2="96.8"/>
<line x1="498.45" y1="91.0" x2="498.45" y2="101.5"/>
<line x1="508.32" y1="91.0" x2="508.32" y2="96.8"/>
<line x1="518.19" y1="91.0" x2="518.19" y2="96.8"/>
<line x1="528.06" y1="91.0" x2="528.06" y2="96.8"/>
<line x1="537.93" y1="91.0" x2="537.93" y2="96.8"/>
<line x1="547.8" y1="91.0" x2="547.8" y2="101.5"/>
<line x1="557.67" y1="91.0" x2="557.67" y2="96.8"/>
<line x1="567.54" y1="91.0" x2="567.54" y2="96.8"/>
<line x1="577.41" y1="91.0" x2="577.41" y2="96.8"/>
<line x1="587.28" y1="91.0" x2="587.28" y2="96.8"/>
<line x1="597.15" y1="91.0" x2="597.15" y2="101.5"/>
<line x1="969.8" y1="91.0" x2="969.8" y2="101.5"/>
<line x1="959.93" y1="91.0" x2="959.93" y2="96.8"/>
<line x1="950.06" y1="91.0" x2="950.06" y2="96.8"/>
<line x1="940.19" y1="91.0" x2="940.19" y2="96.8"/>
<line x1="930.32" y1="91.0" x2="930.32" y2="96.8"/>
<line x1="920.45" y1="91.0" x2="920.45" y2="101.5"/>
<line x1="910.58" y1="91.0" x2="910.58" y2="96.8"/>
<line x1="900.71" y1="91.0" x2="900.71" y2="96.8"/>
<line x1="890.84" y1="91.0" x2="890.84" y2="96.8"/>
<line x1="880.97" y1="91.0" x2="880.97" y2="96.8"/>
<line x1="871.1" y1="91.0" x2="871.1" y2="101.5"/>
<line x1="861.23" y1="91.0" x2="861.23" y2="96.8"/>
<line x1="851.36" y1="91.0" x2="851.36" y2="96.8"/>
<line x1="841.49" y1="91.0" x2="841.49" y2="96.8"/>
<line x1="831.62" y1="91.0" x2="831.62" y2="96.8"/>
<line x1="821.75" y1="91.0" x2="821.75" y2="101.5"/>
<line x1="811.88" y1="91.0" x2="811.88" y2="96.8"/>
<line x1="802.01" y1="91.0" x2="802.01" y2="96.8"/>
<line x1="792.14" y1="91.0" x2="792.14" y2="96.8"/>
<line x1="782.27" y1="91.0" x2="782.27" y2="96.8"/>
<line x1="772.4" y1="91.0" x2="772.4" y2="101.5"/>
<line x1="762.53" y1="91.0" x2="762.53" y2="96.8"/>
<line x1="752.66" y1="91.0" x2="752.66" y2="96.8"/>
<line x1="742.79" y1="91.0" x2="742.79" y2="96.8"/>
<line x1="732.92" y1="91.0" x2="732.92" y2="96.8"/>
<line x1="723.05" y1="91.0" x2="723.05" y2="101.5"/>
<line x1="713.18" y1="91.0" x2="713.18" y2="96.8"/>
<line x1="703.31" y1="91.0" x2="703.31" y2="96.8"/>
<line x1="693.44" y1="91.0" x2="693.44" y2="96.8"/>
<line x1="683.57" y1="91.0" x2="683.57" y2="96.8"/>
<line x1="673.7" y1="91.0" x2="673.7" y2="101.5"/>
<line x1="663.83" y1="91.0" x2="663.83" y2="96.8"/>
<line x1="653.96" y1="91.0" x2="653.96" y2="96.8"/>
<line x1="644.09" y1="91.0" x2="644.09" y2="96.8"/>
<line x1="634.22" y1="91.0" x2="634.22" y2="96.8"/>
<line x1="624.35" y1="91.0" x2="624.35" y2="101.5"/>
</g>
<g id="ticklabels" font-size="27.6">
<text x="142" y="389.2" text-anchor="end">2.5</text>
<text x="142" y="316.65" text-anchor="end">3.0</text>
<text x="142" y="244.1" text-anchor="end">3.5</text>
<text x="142" y="171.55" text-anchor="end">4.0</text>
<text x="142" y="99" text-anchor="end">4.5</text>
<text x="142" y="690.8" text-anchor="end">0</text>
<text x="142" y="600.05" text-anchor="end">50</text>
<text x="142" y="509.3" text-anchor="end">100</text>
<text x="142" y="418.55" text-anchor="end">150</text>
<text x="142" y="1000.8" text-anchor="end">0.0</text>
<text x="142" y="947.12" text-anchor="end">0.5</text>
<text x="142" y="893.45" text-anchor="end">1.0</text>
<text x="142" y="839.77" text-anchor="end">1.5</text>
<text x="142" y="786.1" text-anchor="end">2.0</text>
<text x="142" y="732.42" text-anchor="end">2.5</text>
<text x="153" y="1046.9" text-anchor="middle">0</text>
<text x="323.7" y="1046.9" text-anchor="middle">5</text>
<text x="494.4" y="1046.9" text-anchor="middle">10</text>
<text x="665.1" y="1046.9" text-anchor="middle">15</text>
<text x="835.8" y="1046.9" text-anchor="middle">20</text>
<text transform="translate(144,40.9) rotate(90)">0.0</text>
<text transform="translate(193.35,40.9) rotate(90)">0.1</text>
<text transform="translate(242.7,40.9) rotate(90)">0.2</text>
<text transform="translate(292.05,40.9) rotate(90)">0.3</text>
<text transform="translate(341.4,40.9) rotate(90)">0.4</text>
<text transform="translate(390.75,40.9) rotate(90)">0.5</text>
<text transform="translate(440.1,40.9) rotate(90)">0.6</text>
<text transform="translate(489.45,40.9) rotate(90)">0.7</text>
<text transform="translate(538.8,40.9) rotate(90)">0.8</text>
<text transform="translate(588.15,40.9) rotate(90)">0.9</text>
<text transform="translate(960.8,40.9) rotate(90)">0.2</text>
<text transform="translate(911.45,40.9) rotate(90)">0.3</text>
<text transform="translate(862.1,40.9) rotate(90)">0.4</text>
<text transform="translate(812.75,40.9) rotate(90)">0.5</text>
<text transform="translate(763.4,40.9) rotate(90)">0.6</text>
<text transform="translate(714.05,40.9) rotate(90)">0.7</text>
<text transform="translate(664.7,40.9) rotate(90)">0.8</text>
<text transform="translate(615.35,40.9) rotate(90)">0.9</text>
</g>
<g id="titles" font-size="30.5">
<text x="565" y="1098.2" text-anchor="middle">Time [h]</text>
<text transform="translate(53.6,236.8) rotate(-90)" text-anchor="middle">Voltage [V]</text>
<text transform="translate(31.9,554.2) rotate(-90)" text-anchor="middle">Concentration</text>
<text transform="translate(71.9,555.7) rotate(-90)" text-anchor="middle">[ppm]</text>
<text transform="translate(24.6,867) rotate(-90)" text-anchor="middle">Concentration</text>
<text transform="translate(71.7,952.5) rotate(-90)">[µmol g<tspan font-size="20.2" dy="8.8" dx="1.2">NCM</tspan><tspan dy="-8.8">]</tspan></text>
<text transform="translate(59,841.8) rotate(-90)" font-size="20.2"><tspan font-weight="normal" stroke-width="0">−</tspan><tspan dx="0.5">1</tspan></text>
<text y="22.3"><tspan x="367.3" font-style="italic">x</tspan><tspan x="392.6">in</tspan><tspan x="429.9">Li</tspan><tspan font-size="20.4" dy="8" x="456">1</tspan><tspan font-size="20.4" x="469.4">−</tspan><tspan font-size="20.4" font-style="italic" x="483">x</tspan><tspan dy="-8" x="492.4">Ni</tspan><tspan font-size="20.4" dy="8" x="522.9">0.83</tspan><tspan dy="-8" x="562.6">Co</tspan><tspan font-size="20.4" dy="8" x="604.1">0.12</tspan><tspan dy="-8" x="644">Mn</tspan><tspan font-size="20.4" dy="8" x="690.4">0.05</tspan><tspan dy="-8" x="729.2">O</tspan><tspan font-size="20.4" dy="8" x="752.8">2</tspan></text>
</g>
</svg>
</body>
</html>
